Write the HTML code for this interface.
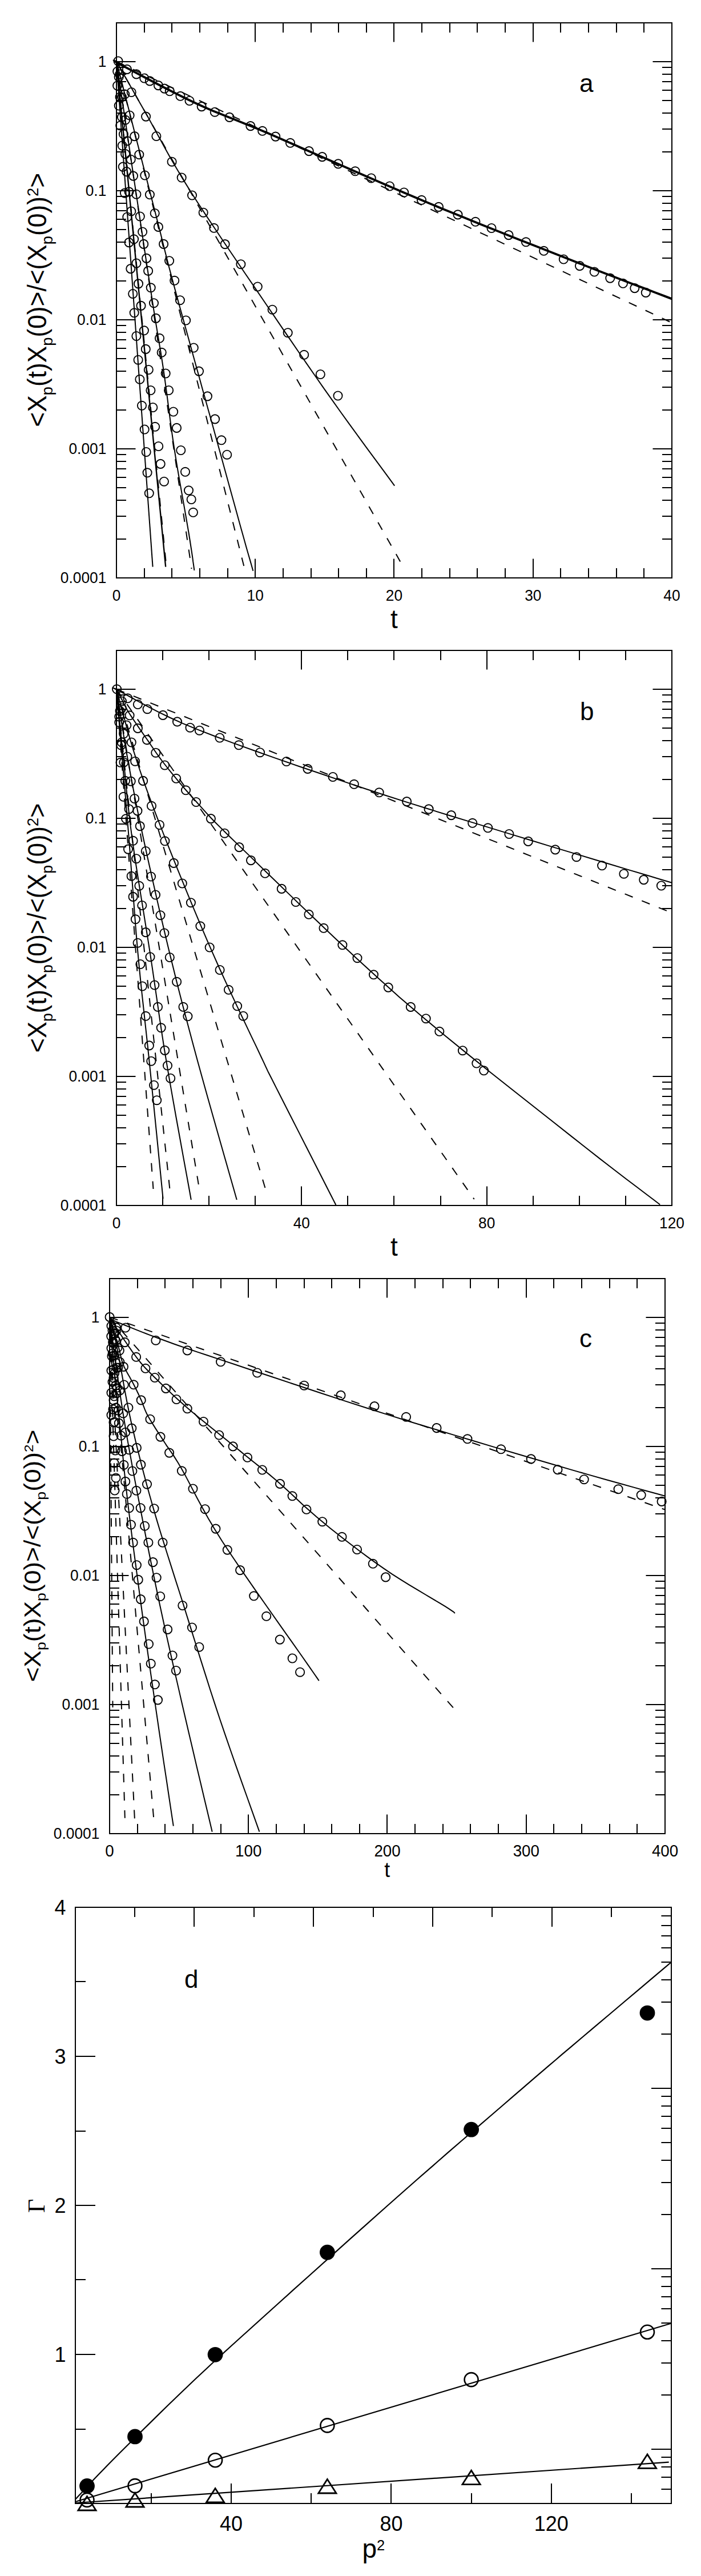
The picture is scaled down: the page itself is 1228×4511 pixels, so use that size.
<!DOCTYPE html>
<html><head><meta charset="utf-8"><title>figure</title><style>
html,body{margin:0;padding:0;background:#fff}
svg{display:block}
text{font-family:"Liberation Sans",Arial,sans-serif;fill:#000;stroke:none}
</style></head><body>
<svg width="1228" height="4511" viewBox="0 0 1228 4511">
<rect width="1228" height="4511" fill="#fff"/>
<g stroke="#000" stroke-linecap="butt">
<rect x="204" y="40" width="973" height="972" fill="none" stroke-width="2"/>
<line x1="204" y1="108" x2="237.5" y2="108" stroke-width="2"/>
<line x1="1177" y1="108" x2="1143.5" y2="108" stroke-width="2"/>
<line x1="204" y1="334" x2="237.5" y2="334" stroke-width="2"/>
<line x1="1177" y1="334" x2="1143.5" y2="334" stroke-width="2"/>
<line x1="204" y1="266" x2="221" y2="266" stroke-width="2"/>
<line x1="1177" y1="266" x2="1160" y2="266" stroke-width="2"/>
<line x1="204" y1="226" x2="221" y2="226" stroke-width="2"/>
<line x1="1177" y1="226" x2="1160" y2="226" stroke-width="2"/>
<line x1="204" y1="198" x2="221" y2="198" stroke-width="2"/>
<line x1="1177" y1="198" x2="1160" y2="198" stroke-width="2"/>
<line x1="204" y1="176" x2="221" y2="176" stroke-width="2"/>
<line x1="1177" y1="176" x2="1160" y2="176" stroke-width="2"/>
<line x1="204" y1="158" x2="221" y2="158" stroke-width="2"/>
<line x1="1177" y1="158" x2="1160" y2="158" stroke-width="2"/>
<line x1="204" y1="143" x2="221" y2="143" stroke-width="2"/>
<line x1="1177" y1="143" x2="1160" y2="143" stroke-width="2"/>
<line x1="204" y1="130" x2="221" y2="130" stroke-width="2"/>
<line x1="1177" y1="130" x2="1160" y2="130" stroke-width="2"/>
<line x1="204" y1="118" x2="221" y2="118" stroke-width="2"/>
<line x1="1177" y1="118" x2="1160" y2="118" stroke-width="2"/>
<line x1="204" y1="560" x2="237.5" y2="560" stroke-width="2"/>
<line x1="1177" y1="560" x2="1143.5" y2="560" stroke-width="2"/>
<line x1="204" y1="492" x2="221" y2="492" stroke-width="2"/>
<line x1="1177" y1="492" x2="1160" y2="492" stroke-width="2"/>
<line x1="204" y1="452" x2="221" y2="452" stroke-width="2"/>
<line x1="1177" y1="452" x2="1160" y2="452" stroke-width="2"/>
<line x1="204" y1="424" x2="221" y2="424" stroke-width="2"/>
<line x1="1177" y1="424" x2="1160" y2="424" stroke-width="2"/>
<line x1="204" y1="402" x2="221" y2="402" stroke-width="2"/>
<line x1="1177" y1="402" x2="1160" y2="402" stroke-width="2"/>
<line x1="204" y1="384" x2="221" y2="384" stroke-width="2"/>
<line x1="1177" y1="384" x2="1160" y2="384" stroke-width="2"/>
<line x1="204" y1="369" x2="221" y2="369" stroke-width="2"/>
<line x1="1177" y1="369" x2="1160" y2="369" stroke-width="2"/>
<line x1="204" y1="356" x2="221" y2="356" stroke-width="2"/>
<line x1="1177" y1="356" x2="1160" y2="356" stroke-width="2"/>
<line x1="204" y1="344" x2="221" y2="344" stroke-width="2"/>
<line x1="1177" y1="344" x2="1160" y2="344" stroke-width="2"/>
<line x1="204" y1="786" x2="237.5" y2="786" stroke-width="2"/>
<line x1="1177" y1="786" x2="1143.5" y2="786" stroke-width="2"/>
<line x1="204" y1="718" x2="221" y2="718" stroke-width="2"/>
<line x1="1177" y1="718" x2="1160" y2="718" stroke-width="2"/>
<line x1="204" y1="678" x2="221" y2="678" stroke-width="2"/>
<line x1="1177" y1="678" x2="1160" y2="678" stroke-width="2"/>
<line x1="204" y1="650" x2="221" y2="650" stroke-width="2"/>
<line x1="1177" y1="650" x2="1160" y2="650" stroke-width="2"/>
<line x1="204" y1="628" x2="221" y2="628" stroke-width="2"/>
<line x1="1177" y1="628" x2="1160" y2="628" stroke-width="2"/>
<line x1="204" y1="610" x2="221" y2="610" stroke-width="2"/>
<line x1="1177" y1="610" x2="1160" y2="610" stroke-width="2"/>
<line x1="204" y1="595" x2="221" y2="595" stroke-width="2"/>
<line x1="1177" y1="595" x2="1160" y2="595" stroke-width="2"/>
<line x1="204" y1="582" x2="221" y2="582" stroke-width="2"/>
<line x1="1177" y1="582" x2="1160" y2="582" stroke-width="2"/>
<line x1="204" y1="570" x2="221" y2="570" stroke-width="2"/>
<line x1="1177" y1="570" x2="1160" y2="570" stroke-width="2"/>
<line x1="204" y1="1012" x2="237.5" y2="1012" stroke-width="2"/>
<line x1="1177" y1="1012" x2="1143.5" y2="1012" stroke-width="2"/>
<line x1="204" y1="944" x2="221" y2="944" stroke-width="2"/>
<line x1="1177" y1="944" x2="1160" y2="944" stroke-width="2"/>
<line x1="204" y1="904" x2="221" y2="904" stroke-width="2"/>
<line x1="1177" y1="904" x2="1160" y2="904" stroke-width="2"/>
<line x1="204" y1="876" x2="221" y2="876" stroke-width="2"/>
<line x1="1177" y1="876" x2="1160" y2="876" stroke-width="2"/>
<line x1="204" y1="854" x2="221" y2="854" stroke-width="2"/>
<line x1="1177" y1="854" x2="1160" y2="854" stroke-width="2"/>
<line x1="204" y1="836" x2="221" y2="836" stroke-width="2"/>
<line x1="1177" y1="836" x2="1160" y2="836" stroke-width="2"/>
<line x1="204" y1="821" x2="221" y2="821" stroke-width="2"/>
<line x1="1177" y1="821" x2="1160" y2="821" stroke-width="2"/>
<line x1="204" y1="808" x2="221" y2="808" stroke-width="2"/>
<line x1="1177" y1="808" x2="1160" y2="808" stroke-width="2"/>
<line x1="204" y1="796" x2="221" y2="796" stroke-width="2"/>
<line x1="1177" y1="796" x2="1160" y2="796" stroke-width="2"/>
<line x1="253" y1="1012" x2="253" y2="995" stroke-width="2"/>
<line x1="253" y1="40" x2="253" y2="57" stroke-width="2"/>
<line x1="301" y1="1012" x2="301" y2="995" stroke-width="2"/>
<line x1="301" y1="40" x2="301" y2="57" stroke-width="2"/>
<line x1="350" y1="1012" x2="350" y2="995" stroke-width="2"/>
<line x1="350" y1="40" x2="350" y2="57" stroke-width="2"/>
<line x1="399" y1="1012" x2="399" y2="995" stroke-width="2"/>
<line x1="399" y1="40" x2="399" y2="57" stroke-width="2"/>
<line x1="447" y1="1012" x2="447" y2="978.5" stroke-width="2"/>
<line x1="447" y1="40" x2="447" y2="73.5" stroke-width="2"/>
<line x1="496" y1="1012" x2="496" y2="995" stroke-width="2"/>
<line x1="496" y1="40" x2="496" y2="57" stroke-width="2"/>
<line x1="545" y1="1012" x2="545" y2="995" stroke-width="2"/>
<line x1="545" y1="40" x2="545" y2="57" stroke-width="2"/>
<line x1="593" y1="1012" x2="593" y2="995" stroke-width="2"/>
<line x1="593" y1="40" x2="593" y2="57" stroke-width="2"/>
<line x1="642" y1="1012" x2="642" y2="995" stroke-width="2"/>
<line x1="642" y1="40" x2="642" y2="57" stroke-width="2"/>
<line x1="690" y1="1012" x2="690" y2="978.5" stroke-width="2"/>
<line x1="690" y1="40" x2="690" y2="73.5" stroke-width="2"/>
<line x1="739" y1="1012" x2="739" y2="995" stroke-width="2"/>
<line x1="739" y1="40" x2="739" y2="57" stroke-width="2"/>
<line x1="788" y1="1012" x2="788" y2="995" stroke-width="2"/>
<line x1="788" y1="40" x2="788" y2="57" stroke-width="2"/>
<line x1="836" y1="1012" x2="836" y2="995" stroke-width="2"/>
<line x1="836" y1="40" x2="836" y2="57" stroke-width="2"/>
<line x1="885" y1="1012" x2="885" y2="995" stroke-width="2"/>
<line x1="885" y1="40" x2="885" y2="57" stroke-width="2"/>
<line x1="934" y1="1012" x2="934" y2="978.5" stroke-width="2"/>
<line x1="934" y1="40" x2="934" y2="73.5" stroke-width="2"/>
<line x1="982" y1="1012" x2="982" y2="995" stroke-width="2"/>
<line x1="982" y1="40" x2="982" y2="57" stroke-width="2"/>
<line x1="1031" y1="1012" x2="1031" y2="995" stroke-width="2"/>
<line x1="1031" y1="40" x2="1031" y2="57" stroke-width="2"/>
<line x1="1080" y1="1012" x2="1080" y2="995" stroke-width="2"/>
<line x1="1080" y1="40" x2="1080" y2="57" stroke-width="2"/>
<line x1="1128" y1="1012" x2="1128" y2="995" stroke-width="2"/>
<line x1="1128" y1="40" x2="1128" y2="57" stroke-width="2"/>
<text transform="translate(186.3,117.2) scale(0.94,1)" font-size="28" text-anchor="end">1</text>
<text transform="translate(186.3,343.2) scale(0.94,1)" font-size="28" text-anchor="end">0.1</text>
<text transform="translate(186.3,569.2) scale(0.94,1)" font-size="28" text-anchor="end">0.01</text>
<text transform="translate(186.3,795.2) scale(0.94,1)" font-size="28" text-anchor="end">0.001</text>
<text transform="translate(186.3,1021.2) scale(0.94,1)" font-size="28" text-anchor="end">0.0001</text>
<text transform="translate(204,1052) scale(0.94,1)" font-size="28" text-anchor="middle">0</text>
<text transform="translate(447.2,1052) scale(0.94,1)" font-size="28" text-anchor="middle">10</text>
<text transform="translate(690.5,1052) scale(0.94,1)" font-size="28" text-anchor="middle">20</text>
<text transform="translate(933.8,1052) scale(0.94,1)" font-size="28" text-anchor="middle">30</text>
<text transform="translate(1177,1052) scale(0.94,1)" font-size="28" text-anchor="middle">40</text>
<text transform="translate(80.5,525.3) rotate(-90)" text-anchor="middle" font-size="46" textLength="444.8" lengthAdjust="spacingAndGlyphs">&lt;X<tspan font-size="28.4" dy="11">p</tspan><tspan dy="-11">(t)X</tspan><tspan font-size="28.4" dy="11">p</tspan><tspan dy="-11">(0)&gt;/&lt;(X</tspan><tspan font-size="28.4" dy="11">p</tspan><tspan dy="-11">(0))</tspan><tspan font-size="28.5" dy="-13.2">2</tspan><tspan dy="13.2">&gt;</tspan></text>
<text x="690.3" y="1099.5" font-size="46" text-anchor="middle">t</text>
<text x="1015" y="161" font-size="44">a</text>
<rect x="204" y="1139" width="973" height="972" fill="none" stroke-width="2"/>
<line x1="204" y1="1207" x2="237.5" y2="1207" stroke-width="2"/>
<line x1="1177" y1="1207" x2="1143.5" y2="1207" stroke-width="2"/>
<line x1="204" y1="1433" x2="237.5" y2="1433" stroke-width="2"/>
<line x1="1177" y1="1433" x2="1143.5" y2="1433" stroke-width="2"/>
<line x1="204" y1="1365" x2="221" y2="1365" stroke-width="2"/>
<line x1="1177" y1="1365" x2="1160" y2="1365" stroke-width="2"/>
<line x1="204" y1="1325" x2="221" y2="1325" stroke-width="2"/>
<line x1="1177" y1="1325" x2="1160" y2="1325" stroke-width="2"/>
<line x1="204" y1="1297" x2="221" y2="1297" stroke-width="2"/>
<line x1="1177" y1="1297" x2="1160" y2="1297" stroke-width="2"/>
<line x1="204" y1="1275" x2="221" y2="1275" stroke-width="2"/>
<line x1="1177" y1="1275" x2="1160" y2="1275" stroke-width="2"/>
<line x1="204" y1="1257" x2="221" y2="1257" stroke-width="2"/>
<line x1="1177" y1="1257" x2="1160" y2="1257" stroke-width="2"/>
<line x1="204" y1="1242" x2="221" y2="1242" stroke-width="2"/>
<line x1="1177" y1="1242" x2="1160" y2="1242" stroke-width="2"/>
<line x1="204" y1="1229" x2="221" y2="1229" stroke-width="2"/>
<line x1="1177" y1="1229" x2="1160" y2="1229" stroke-width="2"/>
<line x1="204" y1="1217" x2="221" y2="1217" stroke-width="2"/>
<line x1="1177" y1="1217" x2="1160" y2="1217" stroke-width="2"/>
<line x1="204" y1="1659" x2="237.5" y2="1659" stroke-width="2"/>
<line x1="1177" y1="1659" x2="1143.5" y2="1659" stroke-width="2"/>
<line x1="204" y1="1591" x2="221" y2="1591" stroke-width="2"/>
<line x1="1177" y1="1591" x2="1160" y2="1591" stroke-width="2"/>
<line x1="204" y1="1551" x2="221" y2="1551" stroke-width="2"/>
<line x1="1177" y1="1551" x2="1160" y2="1551" stroke-width="2"/>
<line x1="204" y1="1523" x2="221" y2="1523" stroke-width="2"/>
<line x1="1177" y1="1523" x2="1160" y2="1523" stroke-width="2"/>
<line x1="204" y1="1501" x2="221" y2="1501" stroke-width="2"/>
<line x1="1177" y1="1501" x2="1160" y2="1501" stroke-width="2"/>
<line x1="204" y1="1483" x2="221" y2="1483" stroke-width="2"/>
<line x1="1177" y1="1483" x2="1160" y2="1483" stroke-width="2"/>
<line x1="204" y1="1468" x2="221" y2="1468" stroke-width="2"/>
<line x1="1177" y1="1468" x2="1160" y2="1468" stroke-width="2"/>
<line x1="204" y1="1455" x2="221" y2="1455" stroke-width="2"/>
<line x1="1177" y1="1455" x2="1160" y2="1455" stroke-width="2"/>
<line x1="204" y1="1443" x2="221" y2="1443" stroke-width="2"/>
<line x1="1177" y1="1443" x2="1160" y2="1443" stroke-width="2"/>
<line x1="204" y1="1885" x2="237.5" y2="1885" stroke-width="2"/>
<line x1="1177" y1="1885" x2="1143.5" y2="1885" stroke-width="2"/>
<line x1="204" y1="1817" x2="221" y2="1817" stroke-width="2"/>
<line x1="1177" y1="1817" x2="1160" y2="1817" stroke-width="2"/>
<line x1="204" y1="1777" x2="221" y2="1777" stroke-width="2"/>
<line x1="1177" y1="1777" x2="1160" y2="1777" stroke-width="2"/>
<line x1="204" y1="1749" x2="221" y2="1749" stroke-width="2"/>
<line x1="1177" y1="1749" x2="1160" y2="1749" stroke-width="2"/>
<line x1="204" y1="1727" x2="221" y2="1727" stroke-width="2"/>
<line x1="1177" y1="1727" x2="1160" y2="1727" stroke-width="2"/>
<line x1="204" y1="1709" x2="221" y2="1709" stroke-width="2"/>
<line x1="1177" y1="1709" x2="1160" y2="1709" stroke-width="2"/>
<line x1="204" y1="1694" x2="221" y2="1694" stroke-width="2"/>
<line x1="1177" y1="1694" x2="1160" y2="1694" stroke-width="2"/>
<line x1="204" y1="1681" x2="221" y2="1681" stroke-width="2"/>
<line x1="1177" y1="1681" x2="1160" y2="1681" stroke-width="2"/>
<line x1="204" y1="1669" x2="221" y2="1669" stroke-width="2"/>
<line x1="1177" y1="1669" x2="1160" y2="1669" stroke-width="2"/>
<line x1="204" y1="2111" x2="237.5" y2="2111" stroke-width="2"/>
<line x1="1177" y1="2111" x2="1143.5" y2="2111" stroke-width="2"/>
<line x1="204" y1="2043" x2="221" y2="2043" stroke-width="2"/>
<line x1="1177" y1="2043" x2="1160" y2="2043" stroke-width="2"/>
<line x1="204" y1="2003" x2="221" y2="2003" stroke-width="2"/>
<line x1="1177" y1="2003" x2="1160" y2="2003" stroke-width="2"/>
<line x1="204" y1="1975" x2="221" y2="1975" stroke-width="2"/>
<line x1="1177" y1="1975" x2="1160" y2="1975" stroke-width="2"/>
<line x1="204" y1="1953" x2="221" y2="1953" stroke-width="2"/>
<line x1="1177" y1="1953" x2="1160" y2="1953" stroke-width="2"/>
<line x1="204" y1="1935" x2="221" y2="1935" stroke-width="2"/>
<line x1="1177" y1="1935" x2="1160" y2="1935" stroke-width="2"/>
<line x1="204" y1="1920" x2="221" y2="1920" stroke-width="2"/>
<line x1="1177" y1="1920" x2="1160" y2="1920" stroke-width="2"/>
<line x1="204" y1="1907" x2="221" y2="1907" stroke-width="2"/>
<line x1="1177" y1="1907" x2="1160" y2="1907" stroke-width="2"/>
<line x1="204" y1="1895" x2="221" y2="1895" stroke-width="2"/>
<line x1="1177" y1="1895" x2="1160" y2="1895" stroke-width="2"/>
<line x1="285" y1="2111" x2="285" y2="2094" stroke-width="2"/>
<line x1="285" y1="1139" x2="285" y2="1156" stroke-width="2"/>
<line x1="366" y1="2111" x2="366" y2="2094" stroke-width="2"/>
<line x1="366" y1="1139" x2="366" y2="1156" stroke-width="2"/>
<line x1="447" y1="2111" x2="447" y2="2094" stroke-width="2"/>
<line x1="447" y1="1139" x2="447" y2="1156" stroke-width="2"/>
<line x1="528" y1="2111" x2="528" y2="2077.5" stroke-width="2"/>
<line x1="528" y1="1139" x2="528" y2="1172.5" stroke-width="2"/>
<line x1="609" y1="2111" x2="609" y2="2094" stroke-width="2"/>
<line x1="609" y1="1139" x2="609" y2="1156" stroke-width="2"/>
<line x1="690" y1="2111" x2="690" y2="2094" stroke-width="2"/>
<line x1="690" y1="1139" x2="690" y2="1156" stroke-width="2"/>
<line x1="772" y1="2111" x2="772" y2="2094" stroke-width="2"/>
<line x1="772" y1="1139" x2="772" y2="1156" stroke-width="2"/>
<line x1="853" y1="2111" x2="853" y2="2077.5" stroke-width="2"/>
<line x1="853" y1="1139" x2="853" y2="1172.5" stroke-width="2"/>
<line x1="934" y1="2111" x2="934" y2="2094" stroke-width="2"/>
<line x1="934" y1="1139" x2="934" y2="1156" stroke-width="2"/>
<line x1="1015" y1="2111" x2="1015" y2="2094" stroke-width="2"/>
<line x1="1015" y1="1139" x2="1015" y2="1156" stroke-width="2"/>
<line x1="1096" y1="2111" x2="1096" y2="2094" stroke-width="2"/>
<line x1="1096" y1="1139" x2="1096" y2="1156" stroke-width="2"/>
<text transform="translate(186.3,1216.2) scale(0.94,1)" font-size="28" text-anchor="end">1</text>
<text transform="translate(186.3,1442.2) scale(0.94,1)" font-size="28" text-anchor="end">0.1</text>
<text transform="translate(186.3,1668.2) scale(0.94,1)" font-size="28" text-anchor="end">0.01</text>
<text transform="translate(186.3,1894.2) scale(0.94,1)" font-size="28" text-anchor="end">0.001</text>
<text transform="translate(186.3,2120.2) scale(0.94,1)" font-size="28" text-anchor="end">0.0001</text>
<text transform="translate(204,2151) scale(0.94,1)" font-size="28" text-anchor="middle">0</text>
<text transform="translate(528.3,2151) scale(0.94,1)" font-size="28" text-anchor="middle">40</text>
<text transform="translate(852.7,2151) scale(0.94,1)" font-size="28" text-anchor="middle">80</text>
<text transform="translate(1177,2151) scale(0.94,1)" font-size="28" text-anchor="middle">120</text>
<text transform="translate(80.5,1625.1) rotate(-90)" text-anchor="middle" font-size="46" textLength="436.8" lengthAdjust="spacingAndGlyphs">&lt;X<tspan font-size="28.4" dy="11">p</tspan><tspan dy="-11">(t)X</tspan><tspan font-size="28.4" dy="11">p</tspan><tspan dy="-11">(0)&gt;/&lt;(X</tspan><tspan font-size="28.4" dy="11">p</tspan><tspan dy="-11">(0))</tspan><tspan font-size="28.5" dy="-13.2">2</tspan><tspan dy="13.2">&gt;</tspan></text>
<text x="690.3" y="2198.5" font-size="46" text-anchor="middle">t</text>
<text x="1016" y="1260.6" font-size="44">b</text>
<rect x="192" y="2239" width="973" height="972" fill="none" stroke-width="2"/>
<line x1="192" y1="2307" x2="225.5" y2="2307" stroke-width="2"/>
<line x1="1165" y1="2307" x2="1131.5" y2="2307" stroke-width="2"/>
<line x1="192" y1="2533" x2="225.5" y2="2533" stroke-width="2"/>
<line x1="1165" y1="2533" x2="1131.5" y2="2533" stroke-width="2"/>
<line x1="192" y1="2465" x2="209" y2="2465" stroke-width="2"/>
<line x1="1165" y1="2465" x2="1148" y2="2465" stroke-width="2"/>
<line x1="192" y1="2425" x2="209" y2="2425" stroke-width="2"/>
<line x1="1165" y1="2425" x2="1148" y2="2425" stroke-width="2"/>
<line x1="192" y1="2397" x2="209" y2="2397" stroke-width="2"/>
<line x1="1165" y1="2397" x2="1148" y2="2397" stroke-width="2"/>
<line x1="192" y1="2375" x2="209" y2="2375" stroke-width="2"/>
<line x1="1165" y1="2375" x2="1148" y2="2375" stroke-width="2"/>
<line x1="192" y1="2357" x2="209" y2="2357" stroke-width="2"/>
<line x1="1165" y1="2357" x2="1148" y2="2357" stroke-width="2"/>
<line x1="192" y1="2342" x2="209" y2="2342" stroke-width="2"/>
<line x1="1165" y1="2342" x2="1148" y2="2342" stroke-width="2"/>
<line x1="192" y1="2329" x2="209" y2="2329" stroke-width="2"/>
<line x1="1165" y1="2329" x2="1148" y2="2329" stroke-width="2"/>
<line x1="192" y1="2317" x2="209" y2="2317" stroke-width="2"/>
<line x1="1165" y1="2317" x2="1148" y2="2317" stroke-width="2"/>
<line x1="192" y1="2759" x2="225.5" y2="2759" stroke-width="2"/>
<line x1="1165" y1="2759" x2="1131.5" y2="2759" stroke-width="2"/>
<line x1="192" y1="2691" x2="209" y2="2691" stroke-width="2"/>
<line x1="1165" y1="2691" x2="1148" y2="2691" stroke-width="2"/>
<line x1="192" y1="2651" x2="209" y2="2651" stroke-width="2"/>
<line x1="1165" y1="2651" x2="1148" y2="2651" stroke-width="2"/>
<line x1="192" y1="2623" x2="209" y2="2623" stroke-width="2"/>
<line x1="1165" y1="2623" x2="1148" y2="2623" stroke-width="2"/>
<line x1="192" y1="2601" x2="209" y2="2601" stroke-width="2"/>
<line x1="1165" y1="2601" x2="1148" y2="2601" stroke-width="2"/>
<line x1="192" y1="2583" x2="209" y2="2583" stroke-width="2"/>
<line x1="1165" y1="2583" x2="1148" y2="2583" stroke-width="2"/>
<line x1="192" y1="2568" x2="209" y2="2568" stroke-width="2"/>
<line x1="1165" y1="2568" x2="1148" y2="2568" stroke-width="2"/>
<line x1="192" y1="2555" x2="209" y2="2555" stroke-width="2"/>
<line x1="1165" y1="2555" x2="1148" y2="2555" stroke-width="2"/>
<line x1="192" y1="2543" x2="209" y2="2543" stroke-width="2"/>
<line x1="1165" y1="2543" x2="1148" y2="2543" stroke-width="2"/>
<line x1="192" y1="2985" x2="225.5" y2="2985" stroke-width="2"/>
<line x1="1165" y1="2985" x2="1131.5" y2="2985" stroke-width="2"/>
<line x1="192" y1="2917" x2="209" y2="2917" stroke-width="2"/>
<line x1="1165" y1="2917" x2="1148" y2="2917" stroke-width="2"/>
<line x1="192" y1="2877" x2="209" y2="2877" stroke-width="2"/>
<line x1="1165" y1="2877" x2="1148" y2="2877" stroke-width="2"/>
<line x1="192" y1="2849" x2="209" y2="2849" stroke-width="2"/>
<line x1="1165" y1="2849" x2="1148" y2="2849" stroke-width="2"/>
<line x1="192" y1="2827" x2="209" y2="2827" stroke-width="2"/>
<line x1="1165" y1="2827" x2="1148" y2="2827" stroke-width="2"/>
<line x1="192" y1="2809" x2="209" y2="2809" stroke-width="2"/>
<line x1="1165" y1="2809" x2="1148" y2="2809" stroke-width="2"/>
<line x1="192" y1="2794" x2="209" y2="2794" stroke-width="2"/>
<line x1="1165" y1="2794" x2="1148" y2="2794" stroke-width="2"/>
<line x1="192" y1="2781" x2="209" y2="2781" stroke-width="2"/>
<line x1="1165" y1="2781" x2="1148" y2="2781" stroke-width="2"/>
<line x1="192" y1="2769" x2="209" y2="2769" stroke-width="2"/>
<line x1="1165" y1="2769" x2="1148" y2="2769" stroke-width="2"/>
<line x1="192" y1="3211" x2="225.5" y2="3211" stroke-width="2"/>
<line x1="1165" y1="3211" x2="1131.5" y2="3211" stroke-width="2"/>
<line x1="192" y1="3143" x2="209" y2="3143" stroke-width="2"/>
<line x1="1165" y1="3143" x2="1148" y2="3143" stroke-width="2"/>
<line x1="192" y1="3103" x2="209" y2="3103" stroke-width="2"/>
<line x1="1165" y1="3103" x2="1148" y2="3103" stroke-width="2"/>
<line x1="192" y1="3075" x2="209" y2="3075" stroke-width="2"/>
<line x1="1165" y1="3075" x2="1148" y2="3075" stroke-width="2"/>
<line x1="192" y1="3053" x2="209" y2="3053" stroke-width="2"/>
<line x1="1165" y1="3053" x2="1148" y2="3053" stroke-width="2"/>
<line x1="192" y1="3035" x2="209" y2="3035" stroke-width="2"/>
<line x1="1165" y1="3035" x2="1148" y2="3035" stroke-width="2"/>
<line x1="192" y1="3020" x2="209" y2="3020" stroke-width="2"/>
<line x1="1165" y1="3020" x2="1148" y2="3020" stroke-width="2"/>
<line x1="192" y1="3007" x2="209" y2="3007" stroke-width="2"/>
<line x1="1165" y1="3007" x2="1148" y2="3007" stroke-width="2"/>
<line x1="192" y1="2995" x2="209" y2="2995" stroke-width="2"/>
<line x1="1165" y1="2995" x2="1148" y2="2995" stroke-width="2"/>
<line x1="241" y1="3211" x2="241" y2="3194" stroke-width="2"/>
<line x1="241" y1="2239" x2="241" y2="2256" stroke-width="2"/>
<line x1="289" y1="3211" x2="289" y2="3194" stroke-width="2"/>
<line x1="289" y1="2239" x2="289" y2="2256" stroke-width="2"/>
<line x1="338" y1="3211" x2="338" y2="3194" stroke-width="2"/>
<line x1="338" y1="2239" x2="338" y2="2256" stroke-width="2"/>
<line x1="387" y1="3211" x2="387" y2="3194" stroke-width="2"/>
<line x1="387" y1="2239" x2="387" y2="2256" stroke-width="2"/>
<line x1="435" y1="3211" x2="435" y2="3177.5" stroke-width="2"/>
<line x1="435" y1="2239" x2="435" y2="2272.5" stroke-width="2"/>
<line x1="484" y1="3211" x2="484" y2="3194" stroke-width="2"/>
<line x1="484" y1="2239" x2="484" y2="2256" stroke-width="2"/>
<line x1="533" y1="3211" x2="533" y2="3194" stroke-width="2"/>
<line x1="533" y1="2239" x2="533" y2="2256" stroke-width="2"/>
<line x1="581" y1="3211" x2="581" y2="3194" stroke-width="2"/>
<line x1="581" y1="2239" x2="581" y2="2256" stroke-width="2"/>
<line x1="630" y1="3211" x2="630" y2="3194" stroke-width="2"/>
<line x1="630" y1="2239" x2="630" y2="2256" stroke-width="2"/>
<line x1="678" y1="3211" x2="678" y2="3177.5" stroke-width="2"/>
<line x1="678" y1="2239" x2="678" y2="2272.5" stroke-width="2"/>
<line x1="727" y1="3211" x2="727" y2="3194" stroke-width="2"/>
<line x1="727" y1="2239" x2="727" y2="2256" stroke-width="2"/>
<line x1="776" y1="3211" x2="776" y2="3194" stroke-width="2"/>
<line x1="776" y1="2239" x2="776" y2="2256" stroke-width="2"/>
<line x1="824" y1="3211" x2="824" y2="3194" stroke-width="2"/>
<line x1="824" y1="2239" x2="824" y2="2256" stroke-width="2"/>
<line x1="873" y1="3211" x2="873" y2="3194" stroke-width="2"/>
<line x1="873" y1="2239" x2="873" y2="2256" stroke-width="2"/>
<line x1="922" y1="3211" x2="922" y2="3177.5" stroke-width="2"/>
<line x1="922" y1="2239" x2="922" y2="2272.5" stroke-width="2"/>
<line x1="970" y1="3211" x2="970" y2="3194" stroke-width="2"/>
<line x1="970" y1="2239" x2="970" y2="2256" stroke-width="2"/>
<line x1="1019" y1="3211" x2="1019" y2="3194" stroke-width="2"/>
<line x1="1019" y1="2239" x2="1019" y2="2256" stroke-width="2"/>
<line x1="1068" y1="3211" x2="1068" y2="3194" stroke-width="2"/>
<line x1="1068" y1="2239" x2="1068" y2="2256" stroke-width="2"/>
<line x1="1116" y1="3211" x2="1116" y2="3194" stroke-width="2"/>
<line x1="1116" y1="2239" x2="1116" y2="2256" stroke-width="2"/>
<text transform="translate(174.3,2316.2) scale(0.94,1)" font-size="28" text-anchor="end">1</text>
<text transform="translate(174.3,2542.2) scale(0.94,1)" font-size="28" text-anchor="end">0.1</text>
<text transform="translate(174.3,2768.2) scale(0.94,1)" font-size="28" text-anchor="end">0.01</text>
<text transform="translate(174.3,2994.2) scale(0.94,1)" font-size="28" text-anchor="end">0.001</text>
<text transform="translate(174.3,3220.2) scale(0.94,1)" font-size="28" text-anchor="end">0.0001</text>
<text transform="translate(192,3251) scale(0.94,1)" font-size="29.5" text-anchor="middle">0</text>
<text transform="translate(435.2,3251) scale(0.94,1)" font-size="29.5" text-anchor="middle">100</text>
<text transform="translate(678.5,3251) scale(0.94,1)" font-size="29.5" text-anchor="middle">200</text>
<text transform="translate(921.8,3251) scale(0.94,1)" font-size="29.5" text-anchor="middle">300</text>
<text transform="translate(1165,3251) scale(0.94,1)" font-size="29.5" text-anchor="middle">400</text>
<text transform="translate(70.5,2724.5) rotate(-90)" text-anchor="middle" font-size="40" textLength="442" lengthAdjust="spacingAndGlyphs">&lt;X<tspan font-size="24" dy="9">p</tspan><tspan dy="-9">(t)X</tspan><tspan font-size="24" dy="9">p</tspan><tspan dy="-9">(0)&gt;/&lt;(X</tspan><tspan font-size="24" dy="9">p</tspan><tspan dy="-9">(0))</tspan><tspan font-size="22" dy="-13">2</tspan><tspan dy="13">&gt;</tspan></text>
<text x="678.2" y="3287" font-size="36" text-anchor="middle">t</text>
<text x="1015" y="2359.4" font-size="44">c</text>
<rect x="132" y="3340" width="1044" height="1044" fill="none" stroke-width="2"/>
<line x1="132" y1="4254" x2="150" y2="4254" stroke-width="2"/>
<line x1="132" y1="4123" x2="167" y2="4123" stroke-width="2"/>
<line x1="132" y1="3992" x2="150" y2="3992" stroke-width="2"/>
<line x1="132" y1="3862" x2="167" y2="3862" stroke-width="2"/>
<line x1="132" y1="3732" x2="150" y2="3732" stroke-width="2"/>
<line x1="132" y1="3601" x2="167" y2="3601" stroke-width="2"/>
<line x1="132" y1="3470" x2="150" y2="3470" stroke-width="2"/>
<line x1="265" y1="4384" x2="265" y2="4366" stroke-width="2"/>
<line x1="405" y1="4384" x2="405" y2="4349" stroke-width="2"/>
<line x1="545" y1="4384" x2="545" y2="4366" stroke-width="2"/>
<line x1="685" y1="4384" x2="685" y2="4349" stroke-width="2"/>
<line x1="826" y1="4384" x2="826" y2="4366" stroke-width="2"/>
<line x1="966" y1="4384" x2="966" y2="4349" stroke-width="2"/>
<line x1="1106" y1="4384" x2="1106" y2="4366" stroke-width="2"/>
<line x1="236" y1="3340" x2="236" y2="3357" stroke-width="2"/>
<line x1="340" y1="3340" x2="340" y2="3374" stroke-width="2"/>
<line x1="445" y1="3340" x2="445" y2="3357" stroke-width="2"/>
<line x1="549" y1="3340" x2="549" y2="3374" stroke-width="2"/>
<line x1="654" y1="3340" x2="654" y2="3357" stroke-width="2"/>
<line x1="758" y1="3340" x2="758" y2="3374" stroke-width="2"/>
<line x1="862" y1="3340" x2="862" y2="3357" stroke-width="2"/>
<line x1="967" y1="3340" x2="967" y2="3374" stroke-width="2"/>
<line x1="1071" y1="3340" x2="1071" y2="3357" stroke-width="2"/>
<line x1="1176" y1="4289" x2="1141" y2="4289" stroke-width="2"/>
<line x1="1176" y1="4359" x2="1158.4" y2="4359" stroke-width="2"/>
<line x1="1176" y1="4338" x2="1158.4" y2="4338" stroke-width="2"/>
<line x1="1176" y1="4320" x2="1158.4" y2="4320" stroke-width="2"/>
<line x1="1176" y1="4303" x2="1158.4" y2="4303" stroke-width="2"/>
<line x1="1176" y1="3973" x2="1141" y2="3973" stroke-width="2"/>
<line x1="1176" y1="4194" x2="1158.4" y2="4194" stroke-width="2"/>
<line x1="1176" y1="4138" x2="1158.4" y2="4138" stroke-width="2"/>
<line x1="1176" y1="4099" x2="1158.4" y2="4099" stroke-width="2"/>
<line x1="1176" y1="4068" x2="1158.4" y2="4068" stroke-width="2"/>
<line x1="1176" y1="4043" x2="1158.4" y2="4043" stroke-width="2"/>
<line x1="1176" y1="4022" x2="1158.4" y2="4022" stroke-width="2"/>
<line x1="1176" y1="4004" x2="1158.4" y2="4004" stroke-width="2"/>
<line x1="1176" y1="3987" x2="1158.4" y2="3987" stroke-width="2"/>
<line x1="1176" y1="3657" x2="1141" y2="3657" stroke-width="2"/>
<line x1="1176" y1="3878" x2="1158.4" y2="3878" stroke-width="2"/>
<line x1="1176" y1="3822" x2="1158.4" y2="3822" stroke-width="2"/>
<line x1="1176" y1="3783" x2="1158.4" y2="3783" stroke-width="2"/>
<line x1="1176" y1="3752" x2="1158.4" y2="3752" stroke-width="2"/>
<line x1="1176" y1="3727" x2="1158.4" y2="3727" stroke-width="2"/>
<line x1="1176" y1="3706" x2="1158.4" y2="3706" stroke-width="2"/>
<line x1="1176" y1="3688" x2="1158.4" y2="3688" stroke-width="2"/>
<line x1="1176" y1="3671" x2="1158.4" y2="3671" stroke-width="2"/>
<line x1="1176" y1="3562" x2="1158.4" y2="3562" stroke-width="2"/>
<line x1="1176" y1="3506" x2="1158.4" y2="3506" stroke-width="2"/>
<line x1="1176" y1="3467" x2="1158.4" y2="3467" stroke-width="2"/>
<line x1="1176" y1="3436" x2="1158.4" y2="3436" stroke-width="2"/>
<line x1="1176" y1="3411" x2="1158.4" y2="3411" stroke-width="2"/>
<line x1="1176" y1="3390" x2="1158.4" y2="3390" stroke-width="2"/>
<line x1="1176" y1="3372" x2="1158.4" y2="3372" stroke-width="2"/>
<line x1="1176" y1="3355" x2="1158.4" y2="3355" stroke-width="2"/>
<text x="115.5" y="4135.5" font-size="36" text-anchor="end">1</text>
<text x="115.5" y="3874.5" font-size="36" text-anchor="end">2</text>
<text x="115.5" y="3613.5" font-size="36" text-anchor="end">3</text>
<text x="115.5" y="3352.5" font-size="36" text-anchor="end">4</text>
<text x="405.1" y="4432" font-size="36" text-anchor="middle">40</text>
<text x="685.4" y="4432" font-size="36" text-anchor="middle">80</text>
<text x="965.8" y="4432" font-size="36" text-anchor="middle">120</text>
<text x="634.5" y="4478.8" font-size="46">p<tspan font-size="25.5" dy="-12.8">2</tspan></text>
<text transform="translate(78,3875) rotate(-90)" font-size="42" style="font-family:'Liberation Serif',serif">Γ</text>
<text x="323" y="3481" font-size="44">d</text>
<polyline points="204,107.7 204.1,107.9 203.3,107.7 202.2,107.4 201.5,107.3 201.9,107.8 203.9,109.1 208.1,111.5 215.3,115.3 225.9,120.9 239.5,128.1 255.5,136.5 273,145.7 291.5,155.3 310.1,164.7 328.2,173.7 345,181.7 359.9,188.4 373.2,194.2 385.8,199.3 398.7,204.5 412.7,210 428.7,216.4 447.5,224.1 470,233.6 496.9,245.2 527.5,258.7 561.1,273.4 596.6,289 633.1,305.1 669.8,321 705.7,336.5 740,351 773.5,364.9 807.6,378.8 841.9,392.7 875.8,406.2 909,419.4 941.1,432.1 971.5,444.1 1000,455.3 1027.3,466 1054.2,476.5 1080.2,486.5 1104.8,495.9 1127.2,504.4 1147.1,512 1163.9,518.4 1177,523.4" fill="none" stroke-width="3.8"/>
<polyline points="204,107.7 207.6,114 212.1,122 217.5,131.5 223.6,142.3 230.3,154.1 237.5,166.8 245.1,180.2 253,194 261,208.3 269.3,223.3 277.9,239.1 287,255.7 296.7,273.2 307.3,291.6 318.8,311 331.4,331.4 345.5,353.5 361.1,377.4 377.9,402.5 395.3,428.5 413.1,454.7 430.7,480.7 447.9,505.9 464.1,529.7 479.5,552.4 494.6,574.6 509.5,596.4 524.1,617.7 538.5,638.6 552.8,659.2 567,679.6 581.2,699.7 596,720.5 611.8,742.3 627.8,764.3 643.5,785.8 658.3,805.9 671.6,823.9 682.8,839.1 691.2,850.6" fill="none" stroke-width="2"/>
<polyline points="204,107.7 209.5,129 217,158.4 226.1,193.5 235.9,232 246,271.3 255.7,309 264.4,342.7 271.4,370 276.7,390.8 280.9,407.3 284.2,420.6 287,432 289.7,442.5 292.4,453.3 295.5,465.4 299.4,480 303.9,496.9 308.8,514.9 313.9,533.8 319.3,553.1 324.7,572.7 330.1,592.3 335.4,611.5 340.5,630 345.4,647.8 350.3,665.2 355,682.4 359.8,699.4 364.5,716.5 369.4,733.8 374.3,751.6 379.4,770 384.8,789.6 390.6,810.7 396.6,832.4 402.6,854.3 408.5,875.6 414.1,895.7 419.1,914 423.5,929.8 427.3,943.3 430.6,955.3 433.6,965.7 436.2,974.8 438.5,982.6 440.4,989.3 442,995 443.4,999.8" fill="none" stroke-width="2"/>
<polyline points="204,107.7 208.8,140.1 215.6,185.1 223.6,238.9 232.3,297.6 241.3,357.4 249.8,414.5 257.4,464.9 263.5,505 268.1,534.8 271.8,558.1 274.8,576.3 277.3,591.1 279.4,603.8 281.5,616 283.6,629.3 286,645 288.5,662.4 290.9,679.8 293.2,697.1 295.4,714.4 297.7,731.8 300,749.3 302.5,767 305.2,785 308.2,803.9 311.5,823.8 315.1,844.3 318.7,864.8 322.2,884.6 325.5,903.3 328.4,920.3 330.9,935 332.9,947.5 334.6,958.5 336.1,968.1 337.3,976.3 338.2,983.4 339.1,989.4 339.8,994.6 340.4,998.9" fill="none" stroke-width="2"/>
<polyline points="204,107.7 290.2,992.6" fill="none" stroke-width="2.4"/>
<polyline points="204,107.7 267.6,992.6" fill="none" stroke-width="2"/>
<polyline points="204,107.7 1177,565.3" fill="none" stroke-width="2" stroke-dasharray="15 17"/>
<polyline points="204,107.7 707.3,994.2" fill="none" stroke-width="2" stroke-dasharray="15 17"/>
<polyline points="204,107.7 429.5,1000" fill="none" stroke-width="2" stroke-dasharray="15 17"/>
<polyline points="204,107.7 335.6,996" fill="none" stroke-width="2" stroke-dasharray="15 17"/>
<polyline points="204,107.7 291.5,992.6" fill="none" stroke-width="2" stroke-dasharray="15 17"/>
<circle cx="207" cy="107" r="7.6" fill="none" stroke-width="1.9"/>
<circle cx="222.4" cy="121.4" r="7.6" fill="none" stroke-width="1.9"/>
<circle cx="238.9" cy="129.9" r="7.6" fill="none" stroke-width="1.9"/>
<circle cx="252.8" cy="137" r="7.6" fill="none" stroke-width="1.9"/>
<circle cx="262.4" cy="141.9" r="7.6" fill="none" stroke-width="1.9"/>
<circle cx="277.4" cy="149.6" r="7.6" fill="none" stroke-width="1.9"/>
<circle cx="288.1" cy="155.1" r="7.6" fill="none" stroke-width="1.9"/>
<circle cx="297.3" cy="159.8" r="7.6" fill="none" stroke-width="1.9"/>
<circle cx="315.9" cy="168.3" r="7.6" fill="none" stroke-width="1.9"/>
<circle cx="332" cy="176.5" r="7.6" fill="none" stroke-width="1.9"/>
<circle cx="353.2" cy="186.6" r="7.6" fill="none" stroke-width="1.9"/>
<circle cx="376.3" cy="196.2" r="7.6" fill="none" stroke-width="1.9"/>
<circle cx="402" cy="205.4" r="7.6" fill="none" stroke-width="1.9"/>
<circle cx="438.8" cy="220.6" r="7.6" fill="none" stroke-width="1.9"/>
<circle cx="459.7" cy="229.3" r="7.6" fill="none" stroke-width="1.9"/>
<circle cx="482.7" cy="239.1" r="7.6" fill="none" stroke-width="1.9"/>
<circle cx="508.5" cy="250.3" r="7.6" fill="none" stroke-width="1.9"/>
<circle cx="541.3" cy="264.6" r="7.6" fill="none" stroke-width="1.9"/>
<circle cx="564.4" cy="274.6" r="7.6" fill="none" stroke-width="1.9"/>
<circle cx="592.5" cy="286.9" r="7.6" fill="none" stroke-width="1.9"/>
<circle cx="622.2" cy="299.8" r="7.6" fill="none" stroke-width="1.9"/>
<circle cx="650.3" cy="312" r="7.6" fill="none" stroke-width="1.9"/>
<circle cx="682.6" cy="326" r="7.6" fill="none" stroke-width="1.9"/>
<circle cx="707.7" cy="337" r="7.6" fill="none" stroke-width="1.9"/>
<circle cx="738.5" cy="350.3" r="7.6" fill="none" stroke-width="1.9"/>
<circle cx="768.5" cy="362.4" r="7.6" fill="none" stroke-width="1.9"/>
<circle cx="802" cy="375.9" r="7.6" fill="none" stroke-width="1.9"/>
<circle cx="832.9" cy="388.3" r="7.6" fill="none" stroke-width="1.9"/>
<circle cx="861" cy="399.5" r="7.6" fill="none" stroke-width="1.9"/>
<circle cx="891" cy="411.6" r="7.6" fill="none" stroke-width="1.9"/>
<circle cx="921.4" cy="423.8" r="7.6" fill="none" stroke-width="1.9"/>
<circle cx="952.6" cy="439.3" r="7.6" fill="none" stroke-width="1.9"/>
<circle cx="987.3" cy="454" r="7.6" fill="none" stroke-width="1.9"/>
<circle cx="1015.5" cy="465.6" r="7.6" fill="none" stroke-width="1.9"/>
<circle cx="1041.2" cy="476" r="7.6" fill="none" stroke-width="1.9"/>
<circle cx="1068.8" cy="487.1" r="7.6" fill="none" stroke-width="1.9"/>
<circle cx="1091.4" cy="496.3" r="7.6" fill="none" stroke-width="1.9"/>
<circle cx="1111.8" cy="504.6" r="7.6" fill="none" stroke-width="1.9"/>
<circle cx="1131.3" cy="512.4" r="7.6" fill="none" stroke-width="1.9"/>
<circle cx="230.2" cy="161.5" r="7.6" fill="none" stroke-width="1.9"/>
<circle cx="255.6" cy="204.1" r="7.6" fill="none" stroke-width="1.9"/>
<circle cx="273.9" cy="238.5" r="7.6" fill="none" stroke-width="1.9"/>
<circle cx="301.1" cy="283.2" r="7.6" fill="none" stroke-width="1.9"/>
<circle cx="318.2" cy="311" r="7.6" fill="none" stroke-width="1.9"/>
<circle cx="336.5" cy="342" r="7.6" fill="none" stroke-width="1.9"/>
<circle cx="356.2" cy="372.2" r="7.6" fill="none" stroke-width="1.9"/>
<circle cx="374.8" cy="399.3" r="7.6" fill="none" stroke-width="1.9"/>
<circle cx="394.2" cy="427.6" r="7.6" fill="none" stroke-width="1.9"/>
<circle cx="421.9" cy="462.7" r="7.6" fill="none" stroke-width="1.9"/>
<circle cx="451.3" cy="502" r="7.6" fill="none" stroke-width="1.9"/>
<circle cx="477.1" cy="542.2" r="7.6" fill="none" stroke-width="1.9"/>
<circle cx="504.2" cy="582.7" r="7.6" fill="none" stroke-width="1.9"/>
<circle cx="532.7" cy="621.3" r="7.6" fill="none" stroke-width="1.9"/>
<circle cx="561.3" cy="655.5" r="7.6" fill="none" stroke-width="1.9"/>
<circle cx="592" cy="693" r="7.6" fill="none" stroke-width="1.9"/>
<circle cx="209.7" cy="130" r="7.6" fill="none" stroke-width="1.9"/>
<circle cx="218.7" cy="165" r="7.6" fill="none" stroke-width="1.9"/>
<circle cx="227.1" cy="202" r="7.6" fill="none" stroke-width="1.9"/>
<circle cx="235.7" cy="238.6" r="7.6" fill="none" stroke-width="1.9"/>
<circle cx="243.8" cy="270.7" r="7.6" fill="none" stroke-width="1.9"/>
<circle cx="253.8" cy="307" r="7.6" fill="none" stroke-width="1.9"/>
<circle cx="262.4" cy="340.8" r="7.6" fill="none" stroke-width="1.9"/>
<circle cx="271.2" cy="373.5" r="7.6" fill="none" stroke-width="1.9"/>
<circle cx="277.4" cy="397.4" r="7.6" fill="none" stroke-width="1.9"/>
<circle cx="286.6" cy="427.4" r="7.6" fill="none" stroke-width="1.9"/>
<circle cx="296.6" cy="456.7" r="7.6" fill="none" stroke-width="1.9"/>
<circle cx="305.7" cy="491.3" r="7.6" fill="none" stroke-width="1.9"/>
<circle cx="315.4" cy="525.7" r="7.6" fill="none" stroke-width="1.9"/>
<circle cx="325.7" cy="561" r="7.6" fill="none" stroke-width="1.9"/>
<circle cx="339.3" cy="609" r="7.6" fill="none" stroke-width="1.9"/>
<circle cx="348.5" cy="650.1" r="7.6" fill="none" stroke-width="1.9"/>
<circle cx="363.4" cy="693.9" r="7.6" fill="none" stroke-width="1.9"/>
<circle cx="376.6" cy="733.9" r="7.6" fill="none" stroke-width="1.9"/>
<circle cx="387.9" cy="770.8" r="7.6" fill="none" stroke-width="1.9"/>
<circle cx="397.7" cy="796.2" r="7.6" fill="none" stroke-width="1.9"/>
<circle cx="208.2" cy="135" r="7.6" fill="none" stroke-width="1.9"/>
<circle cx="213.5" cy="170" r="7.6" fill="none" stroke-width="1.9"/>
<circle cx="219.7" cy="210" r="7.6" fill="none" stroke-width="1.9"/>
<circle cx="222.8" cy="246.7" r="7.6" fill="none" stroke-width="1.9"/>
<circle cx="229.2" cy="279.2" r="7.6" fill="none" stroke-width="1.9"/>
<circle cx="233.5" cy="308.1" r="7.6" fill="none" stroke-width="1.9"/>
<circle cx="238.9" cy="340.2" r="7.6" fill="none" stroke-width="1.9"/>
<circle cx="245.3" cy="379" r="7.6" fill="none" stroke-width="1.9"/>
<circle cx="249.6" cy="406" r="7.6" fill="none" stroke-width="1.9"/>
<circle cx="251.7" cy="427.4" r="7.6" fill="none" stroke-width="1.9"/>
<circle cx="256.6" cy="452.4" r="7.6" fill="none" stroke-width="1.9"/>
<circle cx="259.6" cy="474.4" r="7.6" fill="none" stroke-width="1.9"/>
<circle cx="264.2" cy="503.8" r="7.6" fill="none" stroke-width="1.9"/>
<circle cx="269.5" cy="530.7" r="7.6" fill="none" stroke-width="1.9"/>
<circle cx="273.1" cy="557.4" r="7.6" fill="none" stroke-width="1.9"/>
<circle cx="279.5" cy="592.3" r="7.6" fill="none" stroke-width="1.9"/>
<circle cx="283.2" cy="617.3" r="7.6" fill="none" stroke-width="1.9"/>
<circle cx="290.2" cy="654" r="7.6" fill="none" stroke-width="1.9"/>
<circle cx="295.6" cy="683.5" r="7.6" fill="none" stroke-width="1.9"/>
<circle cx="303.7" cy="721" r="7.6" fill="none" stroke-width="1.9"/>
<circle cx="309.5" cy="749.4" r="7.6" fill="none" stroke-width="1.9"/>
<circle cx="316.8" cy="788.5" r="7.6" fill="none" stroke-width="1.9"/>
<circle cx="324.5" cy="826.3" r="7.6" fill="none" stroke-width="1.9"/>
<circle cx="330.5" cy="858.8" r="7.6" fill="none" stroke-width="1.9"/>
<circle cx="335.2" cy="874.5" r="7.6" fill="none" stroke-width="1.9"/>
<circle cx="338.4" cy="897.3" r="7.6" fill="none" stroke-width="1.9"/>
<circle cx="205.7" cy="125" r="7.6" fill="none" stroke-width="1.9"/>
<circle cx="210.1" cy="170" r="7.6" fill="none" stroke-width="1.9"/>
<circle cx="213.5" cy="205" r="7.6" fill="none" stroke-width="1.9"/>
<circle cx="216.4" cy="235" r="7.6" fill="none" stroke-width="1.9"/>
<circle cx="219.6" cy="269.6" r="7.6" fill="none" stroke-width="1.9"/>
<circle cx="221.7" cy="300.6" r="7.6" fill="none" stroke-width="1.9"/>
<circle cx="226" cy="335.9" r="7.6" fill="none" stroke-width="1.9"/>
<circle cx="229.8" cy="370" r="7.6" fill="none" stroke-width="1.9"/>
<circle cx="234.6" cy="418.8" r="7.6" fill="none" stroke-width="1.9"/>
<circle cx="238.9" cy="461" r="7.6" fill="none" stroke-width="1.9"/>
<circle cx="242.5" cy="496.9" r="7.6" fill="none" stroke-width="1.9"/>
<circle cx="247" cy="535.4" r="7.6" fill="none" stroke-width="1.9"/>
<circle cx="252.4" cy="578.8" r="7.6" fill="none" stroke-width="1.9"/>
<circle cx="255.3" cy="611.4" r="7.6" fill="none" stroke-width="1.9"/>
<circle cx="260.3" cy="647.5" r="7.6" fill="none" stroke-width="1.9"/>
<circle cx="263.9" cy="683.5" r="7.6" fill="none" stroke-width="1.9"/>
<circle cx="267.8" cy="713.5" r="7.6" fill="none" stroke-width="1.9"/>
<circle cx="271.6" cy="747.3" r="7.6" fill="none" stroke-width="1.9"/>
<circle cx="277.7" cy="781.5" r="7.6" fill="none" stroke-width="1.9"/>
<circle cx="281.2" cy="812.4" r="7.6" fill="none" stroke-width="1.9"/>
<circle cx="287.4" cy="843.2" r="7.6" fill="none" stroke-width="1.9"/>
<circle cx="205.6" cy="150" r="7.6" fill="none" stroke-width="1.9"/>
<circle cx="208.2" cy="185" r="7.6" fill="none" stroke-width="1.9"/>
<circle cx="210.7" cy="220" r="7.6" fill="none" stroke-width="1.9"/>
<circle cx="214.2" cy="255" r="7.6" fill="none" stroke-width="1.9"/>
<circle cx="215.3" cy="292.1" r="7.6" fill="none" stroke-width="1.9"/>
<circle cx="218.5" cy="338.1" r="7.6" fill="none" stroke-width="1.9"/>
<circle cx="222.8" cy="380" r="7.6" fill="none" stroke-width="1.9"/>
<circle cx="226" cy="424.6" r="7.6" fill="none" stroke-width="1.9"/>
<circle cx="228.8" cy="470.6" r="7.6" fill="none" stroke-width="1.9"/>
<circle cx="232.7" cy="514.5" r="7.6" fill="none" stroke-width="1.9"/>
<circle cx="235.2" cy="547.8" r="7.6" fill="none" stroke-width="1.9"/>
<circle cx="238.9" cy="588.5" r="7.6" fill="none" stroke-width="1.9"/>
<circle cx="242.1" cy="630.2" r="7.6" fill="none" stroke-width="1.9"/>
<circle cx="244.9" cy="664.3" r="7.6" fill="none" stroke-width="1.9"/>
<circle cx="248.5" cy="710.3" r="7.6" fill="none" stroke-width="1.9"/>
<circle cx="253.2" cy="752" r="7.6" fill="none" stroke-width="1.9"/>
<circle cx="256.2" cy="791.5" r="7.6" fill="none" stroke-width="1.9"/>
<circle cx="258.1" cy="827.8" r="7.6" fill="none" stroke-width="1.9"/>
<circle cx="261.3" cy="863.8" r="7.6" fill="none" stroke-width="1.9"/>
<polyline points="204,1207 203.5,1206.8 201.8,1206 199.6,1205.1 197.8,1204.3 197.1,1204 198.2,1204.7 201.8,1206.5 208.8,1210 218.5,1215.1 230.1,1221.5 243.6,1229 259.2,1237.4 277.1,1246.6 297.4,1256.5 320.2,1266.8 345.8,1277.4 375.1,1288.7 408.4,1301.1 444.8,1314.3 483.3,1327.9 523.1,1341.7 563.1,1355.3 602.4,1368.6 640,1381.2 676.7,1393.2 713.8,1405.1 751,1416.8 788,1428.2 824.6,1439.4 860.6,1450.4 895.8,1461.1 930,1471.5 964.6,1482.1 1000.5,1492.9 1036.6,1503.8 1071.5,1514.3 1104.2,1524.1 1133.5,1532.8 1158.1,1540.2 1176.8,1545.8" fill="none" stroke-width="2"/>
<polyline points="204,1207 204.8,1208.6 206,1210.8 207.3,1213.3 208.8,1216.1 210.3,1219.1 211.9,1222.2 213.5,1225.2 215,1228 216.3,1230.6 217.5,1232.9 218.6,1235.2 219.8,1237.6 221.1,1240.1 222.7,1242.9 224.6,1246.2 227,1250 229.9,1254.4 233.2,1259.4 236.8,1264.8 240.8,1270.6 244.8,1276.5 248.9,1282.4 253,1288.3 257,1294 260.8,1299.4 264.3,1304.7 267.9,1310 271.5,1315.2 275.3,1320.7 279.4,1326.4 283.9,1332.5 289,1339 294.5,1346 300.4,1353.3 306.6,1360.9 313.2,1368.9 320.1,1377.1 327.4,1385.5 335,1394.1 343,1403 350.1,1410.9 355.9,1417.4 361.3,1423.4 367.4,1430 375.2,1438.2 385.9,1448.9 400.5,1463.2 420,1482.1 445.1,1506.4 475.3,1535.7 509.3,1568.6 546.1,1604 584.6,1640.7 623.8,1677.5 662.7,1713.1 700,1746.4 737.5,1778.6 777,1811.5 817.4,1844.4 857.7,1876.7 897.2,1908 934.6,1937.5 969.2,1964.8 1000,1989.1 1027.5,2010.8 1052.8,2030.6 1076,2048.5 1096.8,2064.5 1115.4,2078.5 1131.5,2090.7 1145.1,2101 1156.2,2109.5" fill="none" stroke-width="2"/>
<polyline points="204,1207 206.6,1216.4 209.9,1228.7 213.8,1243.4 218.2,1259.8 223,1277.2 228.1,1295.2 233.4,1313 238.8,1330 244.2,1346.3 249.7,1362.4 255.5,1378.6 261.5,1395.2 267.9,1412.4 274.8,1430.4 282.2,1449.5 290.2,1470 299,1492.2 308.6,1516.2 318.9,1541.4 329.5,1567.3 340.4,1593.6 351.4,1619.8 362.3,1645.3 372.9,1669.7 383.7,1694 395.2,1719.1 406.9,1744.2 418.5,1768.9 429.7,1792.4 440,1814.1 449.3,1833.4 457,1849.7 462.5,1861.4 465.7,1868.3 467.5,1872.2 468.6,1874.6 469.9,1877.3 472.2,1881.8 476.3,1889.8 482.9,1902.9 493,1922.8 506.2,1948.7 521.3,1978.4 537.3,2009.8 553.1,2040.7 567.6,2069.2 579.7,2093 588.4,2110" fill="none" stroke-width="2"/>
<polyline points="204,1207 205.5,1216.4 207.4,1228.7 209.6,1243.4 212.2,1259.8 214.9,1277.2 217.8,1295.2 220.8,1313 223.8,1330 226.8,1346.3 229.8,1362.4 232.9,1378.6 236.1,1395.2 239.5,1412.4 243.2,1430.4 247.2,1449.5 251.6,1470 256.4,1492.2 261.7,1516 267.3,1540.9 273.1,1566.7 279.1,1592.9 285.2,1619.1 291.3,1644.8 297.3,1669.7 303.2,1693.6 308.9,1716.7 314.7,1739.4 320.5,1762.1 326.6,1785.1 332.9,1808.8 339.5,1833.6 346.6,1859.7 354.7,1889.1 363.9,1922.1 373.8,1957 383.8,1992.2 393.4,2025.9 402.1,2056.4 409.4,2082 414.8,2101" fill="none" stroke-width="2"/>
<polyline points="204,1207 204.9,1216.4 206.1,1228.7 207.6,1243.4 209.2,1259.8 210.9,1277.2 212.7,1295.2 214.5,1313 216.3,1330 218,1346.3 219.6,1362.4 221.1,1378.6 222.8,1395.2 224.6,1412.4 226.7,1430.4 229,1449.5 231.7,1470 234.9,1492.2 238.5,1516 242.4,1540.9 246.5,1566.7 250.8,1592.9 255,1619.1 259.1,1644.8 263,1669.7 266.6,1693.6 270,1716.7 273.3,1739.4 276.6,1762.1 279.9,1785.1 283.5,1808.8 287.3,1833.6 291.6,1859.7 296.6,1889.1 302.4,1922.1 308.6,1957 315,1992.2 321.1,2025.9 326.7,2056.4 331.4,2082 334.8,2101" fill="none" stroke-width="2"/>
<polyline points="204,1207 204.8,1216.4 205.8,1228.7 207,1243.4 208.4,1259.8 209.8,1277.2 211.3,1295.2 212.8,1313 214.2,1330 215.6,1346.3 216.9,1362.4 218.3,1378.6 219.8,1395.2 221.2,1412.4 222.7,1430.4 224.3,1449.5 226,1470 227.7,1492.2 229.5,1516 231.4,1540.9 233.3,1566.7 235.3,1592.9 237.3,1619.1 239.4,1644.8 241.6,1669.7 243.9,1693.6 246.2,1716.7 248.6,1739.5 251.1,1762.2 253.6,1785.3 256.2,1809 258.9,1833.7 261.6,1859.7 264.6,1888.9 267.9,1921.7 271.4,1956.3 274.9,1991.2 278.2,2024.6 281.2,2054.8 283.7,2080.2 285.6,2099" fill="none" stroke-width="2"/>
<polyline points="204,1207 1176.8,1598.5" fill="none" stroke-width="2" stroke-dasharray="15 17"/>
<polyline points="204,1207 830.7,2100" fill="none" stroke-width="2" stroke-dasharray="15 17"/>
<polyline points="204,1207 467.5,2090.4" fill="none" stroke-width="2" stroke-dasharray="15 17"/>
<polyline points="204,1207 349.8,2086.2" fill="none" stroke-width="2" stroke-dasharray="15 17"/>
<polyline points="204,1207 297.6,2084" fill="none" stroke-width="2" stroke-dasharray="15 17"/>
<polyline points="204,1207 268.5,2082" fill="none" stroke-width="2" stroke-dasharray="15 17"/>
<circle cx="204.6" cy="1206.8" r="7.6" fill="none" stroke-width="1.9"/>
<circle cx="223.8" cy="1222.8" r="7.6" fill="none" stroke-width="1.9"/>
<circle cx="241.4" cy="1233.5" r="7.6" fill="none" stroke-width="1.9"/>
<circle cx="258.1" cy="1241.7" r="7.6" fill="none" stroke-width="1.9"/>
<circle cx="285.4" cy="1252.4" r="7.6" fill="none" stroke-width="1.9"/>
<circle cx="310.5" cy="1263.9" r="7.6" fill="none" stroke-width="1.9"/>
<circle cx="333" cy="1274.2" r="7.6" fill="none" stroke-width="1.9"/>
<circle cx="349.4" cy="1279.2" r="7.6" fill="none" stroke-width="1.9"/>
<circle cx="384.9" cy="1292" r="7.6" fill="none" stroke-width="1.9"/>
<circle cx="418.3" cy="1304.8" r="7.6" fill="none" stroke-width="1.9"/>
<circle cx="455.5" cy="1317.7" r="7.6" fill="none" stroke-width="1.9"/>
<circle cx="501.8" cy="1333.5" r="7.6" fill="none" stroke-width="1.9"/>
<circle cx="539" cy="1346.4" r="7.6" fill="none" stroke-width="1.9"/>
<circle cx="583.1" cy="1360.5" r="7.6" fill="none" stroke-width="1.9"/>
<circle cx="620.3" cy="1373.3" r="7.6" fill="none" stroke-width="1.9"/>
<circle cx="664.2" cy="1387.8" r="7.6" fill="none" stroke-width="1.9"/>
<circle cx="712.6" cy="1403.6" r="7.6" fill="none" stroke-width="1.9"/>
<circle cx="751.1" cy="1416.9" r="7.6" fill="none" stroke-width="1.9"/>
<circle cx="790.5" cy="1427.6" r="7.6" fill="none" stroke-width="1.9"/>
<circle cx="827.7" cy="1441.3" r="7.6" fill="none" stroke-width="1.9"/>
<circle cx="854.7" cy="1449.8" r="7.6" fill="none" stroke-width="1.9"/>
<circle cx="891.9" cy="1460.5" r="7.6" fill="none" stroke-width="1.9"/>
<circle cx="925.3" cy="1473.4" r="7.6" fill="none" stroke-width="1.9"/>
<circle cx="972.7" cy="1487.9" r="7.6" fill="none" stroke-width="1.9"/>
<circle cx="1009.9" cy="1500.7" r="7.6" fill="none" stroke-width="1.9"/>
<circle cx="1054.6" cy="1515.8" r="7.6" fill="none" stroke-width="1.9"/>
<circle cx="1092.9" cy="1530.2" r="7.6" fill="none" stroke-width="1.9"/>
<circle cx="1127.7" cy="1540.6" r="7.6" fill="none" stroke-width="1.9"/>
<circle cx="1158.4" cy="1551" r="7.6" fill="none" stroke-width="1.9"/>
<circle cx="213.5" cy="1228" r="7.6" fill="none" stroke-width="1.9"/>
<circle cx="227.1" cy="1252.8" r="7.6" fill="none" stroke-width="1.9"/>
<circle cx="241.4" cy="1275.4" r="7.6" fill="none" stroke-width="1.9"/>
<circle cx="257.4" cy="1295.6" r="7.6" fill="none" stroke-width="1.9"/>
<circle cx="272.8" cy="1318.2" r="7.6" fill="none" stroke-width="1.9"/>
<circle cx="288.6" cy="1340" r="7.6" fill="none" stroke-width="1.9"/>
<circle cx="308.7" cy="1363.3" r="7.6" fill="none" stroke-width="1.9"/>
<circle cx="325.5" cy="1383.8" r="7.6" fill="none" stroke-width="1.9"/>
<circle cx="343.6" cy="1404.5" r="7.6" fill="none" stroke-width="1.9"/>
<circle cx="369.4" cy="1433.6" r="7.6" fill="none" stroke-width="1.9"/>
<circle cx="393.4" cy="1459.2" r="7.6" fill="none" stroke-width="1.9"/>
<circle cx="419" cy="1483.6" r="7.6" fill="none" stroke-width="1.9"/>
<circle cx="439.5" cy="1506.6" r="7.6" fill="none" stroke-width="1.9"/>
<circle cx="464.3" cy="1529.3" r="7.6" fill="none" stroke-width="1.9"/>
<circle cx="493.3" cy="1556.4" r="7.6" fill="none" stroke-width="1.9"/>
<circle cx="518.2" cy="1579.5" r="7.6" fill="none" stroke-width="1.9"/>
<circle cx="541" cy="1601.3" r="7.6" fill="none" stroke-width="1.9"/>
<circle cx="567" cy="1625.3" r="7.6" fill="none" stroke-width="1.9"/>
<circle cx="599.9" cy="1654.8" r="7.6" fill="none" stroke-width="1.9"/>
<circle cx="626" cy="1677.7" r="7.6" fill="none" stroke-width="1.9"/>
<circle cx="654.5" cy="1706.8" r="7.6" fill="none" stroke-width="1.9"/>
<circle cx="680.2" cy="1729.1" r="7.6" fill="none" stroke-width="1.9"/>
<circle cx="719.4" cy="1763.4" r="7.6" fill="none" stroke-width="1.9"/>
<circle cx="746.2" cy="1783.7" r="7.6" fill="none" stroke-width="1.9"/>
<circle cx="769.8" cy="1806.3" r="7.6" fill="none" stroke-width="1.9"/>
<circle cx="810.4" cy="1839.7" r="7.6" fill="none" stroke-width="1.9"/>
<circle cx="834.8" cy="1862" r="7.6" fill="none" stroke-width="1.9"/>
<circle cx="847.6" cy="1874.8" r="7.6" fill="none" stroke-width="1.9"/>
<circle cx="213.3" cy="1240" r="7.6" fill="none" stroke-width="1.9"/>
<circle cx="221.8" cy="1270" r="7.6" fill="none" stroke-width="1.9"/>
<circle cx="230.3" cy="1300" r="7.6" fill="none" stroke-width="1.9"/>
<circle cx="236.7" cy="1333.2" r="7.6" fill="none" stroke-width="1.9"/>
<circle cx="250.6" cy="1367.4" r="7.6" fill="none" stroke-width="1.9"/>
<circle cx="265.5" cy="1411.3" r="7.6" fill="none" stroke-width="1.9"/>
<circle cx="279.5" cy="1444.5" r="7.6" fill="none" stroke-width="1.9"/>
<circle cx="288.9" cy="1472.8" r="7.6" fill="none" stroke-width="1.9"/>
<circle cx="304.4" cy="1511.4" r="7.6" fill="none" stroke-width="1.9"/>
<circle cx="319.3" cy="1547" r="7.6" fill="none" stroke-width="1.9"/>
<circle cx="334.4" cy="1580.7" r="7.6" fill="none" stroke-width="1.9"/>
<circle cx="350.9" cy="1621.8" r="7.6" fill="none" stroke-width="1.9"/>
<circle cx="367.2" cy="1659" r="7.6" fill="none" stroke-width="1.9"/>
<circle cx="385.1" cy="1698.5" r="7.6" fill="none" stroke-width="1.9"/>
<circle cx="400.5" cy="1733.3" r="7.6" fill="none" stroke-width="1.9"/>
<circle cx="415.6" cy="1761.8" r="7.6" fill="none" stroke-width="1.9"/>
<circle cx="426.1" cy="1779.2" r="7.6" fill="none" stroke-width="1.9"/>
<circle cx="210.1" cy="1245" r="7.6" fill="none" stroke-width="1.9"/>
<circle cx="216.6" cy="1285" r="7.6" fill="none" stroke-width="1.9"/>
<circle cx="223" cy="1325" r="7.6" fill="none" stroke-width="1.9"/>
<circle cx="229.2" cy="1368.1" r="7.6" fill="none" stroke-width="1.9"/>
<circle cx="235.6" cy="1398.5" r="7.6" fill="none" stroke-width="1.9"/>
<circle cx="240.9" cy="1419.9" r="7.6" fill="none" stroke-width="1.9"/>
<circle cx="245.2" cy="1446.6" r="7.6" fill="none" stroke-width="1.9"/>
<circle cx="255.3" cy="1490.5" r="7.6" fill="none" stroke-width="1.9"/>
<circle cx="264.5" cy="1535" r="7.6" fill="none" stroke-width="1.9"/>
<circle cx="272.5" cy="1567" r="7.6" fill="none" stroke-width="1.9"/>
<circle cx="281" cy="1602.7" r="7.6" fill="none" stroke-width="1.9"/>
<circle cx="287.9" cy="1634" r="7.6" fill="none" stroke-width="1.9"/>
<circle cx="297.3" cy="1676.5" r="7.6" fill="none" stroke-width="1.9"/>
<circle cx="309.6" cy="1719.3" r="7.6" fill="none" stroke-width="1.9"/>
<circle cx="321" cy="1763.3" r="7.6" fill="none" stroke-width="1.9"/>
<circle cx="328.9" cy="1779.8" r="7.6" fill="none" stroke-width="1.9"/>
<circle cx="208.8" cy="1255" r="7.6" fill="none" stroke-width="1.9"/>
<circle cx="213.3" cy="1300" r="7.6" fill="none" stroke-width="1.9"/>
<circle cx="216.9" cy="1335" r="7.6" fill="none" stroke-width="1.9"/>
<circle cx="219.5" cy="1367.4" r="7.6" fill="none" stroke-width="1.9"/>
<circle cx="226" cy="1416.7" r="7.6" fill="none" stroke-width="1.9"/>
<circle cx="233.1" cy="1472.3" r="7.6" fill="none" stroke-width="1.9"/>
<circle cx="238.8" cy="1503.7" r="7.6" fill="none" stroke-width="1.9"/>
<circle cx="243.9" cy="1551.3" r="7.6" fill="none" stroke-width="1.9"/>
<circle cx="248.8" cy="1585.5" r="7.6" fill="none" stroke-width="1.9"/>
<circle cx="255.3" cy="1632.6" r="7.6" fill="none" stroke-width="1.9"/>
<circle cx="263" cy="1675.7" r="7.6" fill="none" stroke-width="1.9"/>
<circle cx="270.8" cy="1725" r="7.6" fill="none" stroke-width="1.9"/>
<circle cx="276.5" cy="1763.3" r="7.6" fill="none" stroke-width="1.9"/>
<circle cx="282.2" cy="1799.8" r="7.6" fill="none" stroke-width="1.9"/>
<circle cx="288.7" cy="1839.4" r="7.6" fill="none" stroke-width="1.9"/>
<circle cx="293.5" cy="1866" r="7.6" fill="none" stroke-width="1.9"/>
<circle cx="298.7" cy="1888.2" r="7.6" fill="none" stroke-width="1.9"/>
<circle cx="208.8" cy="1265" r="7.6" fill="none" stroke-width="1.9"/>
<circle cx="212.1" cy="1305" r="7.6" fill="none" stroke-width="1.9"/>
<circle cx="211" cy="1335.3" r="7.6" fill="none" stroke-width="1.9"/>
<circle cx="216.3" cy="1395.3" r="7.6" fill="none" stroke-width="1.9"/>
<circle cx="220.6" cy="1433.8" r="7.6" fill="none" stroke-width="1.9"/>
<circle cx="224.5" cy="1487.1" r="7.6" fill="none" stroke-width="1.9"/>
<circle cx="230.2" cy="1534.2" r="7.6" fill="none" stroke-width="1.9"/>
<circle cx="233.1" cy="1570.4" r="7.6" fill="none" stroke-width="1.9"/>
<circle cx="237.4" cy="1609.8" r="7.6" fill="none" stroke-width="1.9"/>
<circle cx="241.1" cy="1651.2" r="7.6" fill="none" stroke-width="1.9"/>
<circle cx="245.9" cy="1688.5" r="7.6" fill="none" stroke-width="1.9"/>
<circle cx="249.4" cy="1727" r="7.6" fill="none" stroke-width="1.9"/>
<circle cx="255.3" cy="1779.3" r="7.6" fill="none" stroke-width="1.9"/>
<circle cx="261.4" cy="1830.9" r="7.6" fill="none" stroke-width="1.9"/>
<circle cx="264.8" cy="1858.2" r="7.6" fill="none" stroke-width="1.9"/>
<circle cx="269.6" cy="1900.2" r="7.6" fill="none" stroke-width="1.9"/>
<circle cx="274.7" cy="1926.7" r="7.6" fill="none" stroke-width="1.9"/>
<polyline points="192.1,2306.5 192.5,2306.9 192.5,2307.3 192.5,2307.8 192.7,2308.4 193.6,2309.3 195.5,2310.5 198.6,2312.1 203.5,2314.3 210.2,2317.1 218.5,2320.5 228.1,2324.4 238.7,2328.6 250,2333.1 261.7,2337.6 273.4,2342 285,2346.3 295.3,2350 304.1,2353.2 312.6,2356.2 321.7,2359.4 332.4,2363 345.9,2367.6 363,2373.3 385,2380.6 412.6,2389.8 445.2,2400.7 481.6,2412.8 520.6,2425.8 561.2,2439.2 602,2452.6 642,2465.5 680,2477.6 717.1,2489.2 755.1,2500.8 793.3,2512.4 831.3,2523.8 868.4,2534.9 904.3,2545.5 938.3,2555.5 970,2564.8 1000.2,2573.6 1030,2582.1 1058.6,2590.2 1085.6,2597.8 1110.3,2604.6 1132.1,2610.7 1150.5,2615.8 1164.9,2619.8" fill="none" stroke-width="2"/>
<polyline points="192.1,2306.5 193.1,2308.1 194.4,2310.2 196,2312.7 197.7,2315.4 199.5,2318.4 201.4,2321.4 203.3,2324.3 205,2327 206.6,2329.6 208.3,2332.1 209.9,2334.6 211.5,2337.2 213.2,2339.7 214.9,2342.4 216.8,2345.1 218.7,2348 220.8,2351 223,2354.2 225.2,2357.6 227.6,2360.9 230,2364.3 232.3,2367.7 234.7,2370.9 237,2374 239.1,2376.9 241.1,2379.5 243,2382 244.9,2384.4 247,2387 249.3,2389.7 251.9,2392.7 255,2396 258.6,2399.8 262.6,2403.8 267,2408.2 271.6,2412.7 276.3,2417.3 281.1,2422 285.9,2426.6 290.6,2431 295.1,2435.3 299.4,2439.4 303.7,2443.5 308.1,2447.6 312.7,2451.7 317.5,2456.1 322.6,2460.6 328.2,2465.5 334.4,2470.7 341.1,2476.3 348.2,2482.2 355.5,2488.2 363,2494.2 370.3,2500.2 377.5,2506 384.3,2511.5 390.8,2516.8 397,2521.8 403.1,2526.8 409.1,2531.7 415,2536.5 421.1,2541.4 427.2,2546.4 433.5,2551.5 439.8,2556.6 446,2561.5 452.1,2566.4 458.4,2571.3 464.9,2576.5 471.8,2582.1 479.1,2588.2 487,2595 495.4,2602.5 504.2,2610.5 513.4,2619 523,2627.9 532.9,2637.2 543.4,2646.6 554.2,2656.1 565.6,2665.6 577.6,2675.4 590.3,2685.5 603.6,2696 617.3,2706.5 631.2,2717 645.2,2727.4 659,2737.4 672.6,2746.9 686.6,2756.3 701.5,2765.8 716.8,2775.3 731.9,2784.4 746.3,2793 759.5,2800.8 770.9,2807.6 780,2813.2 786.6,2817.4 791,2820.3 793.7,2822.1 795.2,2823.2 795.8,2823.8 796.1,2824.2 796.3,2824.5 797,2825" fill="none" stroke-width="2"/>
<polyline points="192.1,2306.5 192.7,2308.5 193.5,2311.2 194.5,2314.5 195.5,2318.1 196.7,2321.9 197.8,2325.7 199,2329.5 200,2333 201,2336.3 202,2339.6 203,2343 204,2346.3 205,2349.6 206,2353 207,2356.5 208,2360 208.9,2363.6 209.8,2367.2 210.6,2370.9 211.4,2374.6 212.3,2378.3 213.3,2382.1 214.5,2386 216,2390 217.8,2394.1 219.9,2398.4 222.2,2402.8 224.7,2407.2 227.2,2411.6 229.6,2415.9 231.9,2420.1 234,2424 235.9,2427.7 237.6,2431.2 239.3,2434.5 240.8,2437.8 242.4,2441 243.9,2444.3 245.4,2447.6 247,2451 248.5,2454.4 249.7,2457.7 250.9,2460.9 252.2,2464.2 253.5,2467.7 255.1,2471.4 257,2475.5 259.4,2480 262.3,2485 265.6,2490.6 269.3,2496.4 273.2,2502.6 277.2,2508.8 281.3,2515 285.2,2521.1 289,2527 292.3,2532.1 295.2,2536.2 297.8,2540 300.6,2543.9 303.7,2548.4 307.3,2554.1 311.9,2561.5 317.5,2571 323.9,2582.4 330.6,2595.1 337.9,2609.1 345.9,2624.5 354.9,2641.1 365,2659.2 376.6,2678.7 389.7,2699.7 405.8,2724 425.2,2752.6 446.7,2783.6 469.1,2815.5 491,2846.6 511.2,2875.1 528.4,2899.5 541.4,2918.1 550,2930.5 555.3,2938.1 558,2942 558.8,2943.2 558.4,2942.7 557.5,2941.5 556.9,2940.6 557.2,2941" fill="none" stroke-width="2"/>
<polyline points="192.1,2306.5 193,2310.1 194.1,2314.3 195.5,2319.3 197,2325.1 198.7,2332 200.6,2340 202.7,2349.3 205,2360 207.4,2372.5 210,2386.7 212.8,2402.3 215.8,2419 218.9,2436.4 222.3,2454.3 225.9,2472.3 229.7,2490 233.8,2507.6 238,2525.6 242.5,2543.8 247.2,2562.4 252.1,2581.3 257.2,2600.5 262.6,2620 268.2,2639.8 274.1,2659.9 280.2,2680.2 286.6,2700.8 293.2,2721.8 300,2743.1 306.9,2764.9 314.1,2787.2 321.3,2810 328.7,2833.6 336.3,2857.9 344.1,2882.8 352.1,2908.1 360.2,2933.6 368.3,2959.2 376.6,2984.6 384.9,3009.7 393.8,3035.9 403.5,3064 413.6,3092.8 423.6,3121.2 433.2,3148 441.8,3172.2 449,3192.4 454.4,3207.7" fill="none" stroke-width="2"/>
<polyline points="192.1,2306.5 192.7,2311.5 193.5,2317.7 194.4,2325.1 195.5,2333.6 196.7,2342.9 198,2353 199.4,2363.7 201,2375 202.7,2387 204.5,2399.9 206.4,2413.6 208.5,2428 210.6,2443 213,2458.4 215.4,2474.1 218,2490 220.7,2506 223.5,2522.3 226.5,2538.9 229.6,2555.9 232.8,2573.5 236.2,2591.6 239.8,2610.4 243.6,2630 247.6,2650.5 251.7,2671.7 256,2693.7 260.5,2716.3 265.2,2739.3 270,2762.7 274.9,2786.3 279.9,2810 285.1,2834 290.5,2858.6 296.1,2883.5 301.8,2908.7 307.6,2934.1 313.4,2959.4 319.2,2984.7 325,3009.7 331.1,3035.9 337.7,3064 344.4,3092.8 351.2,3121.2 357.5,3148 363.3,3172.2 368.1,3192.4 371.7,3207.7" fill="none" stroke-width="2"/>
<polyline points="192.1,2306.5 192.5,2311.9 193,2318.9 193.6,2327.1 194.3,2336.4 195.1,2346.5 196,2357.3 197,2368.6 198,2380 199.1,2391.8 200.4,2404.2 201.7,2417.3 203.2,2430.8 204.7,2444.9 206.2,2459.5 207.8,2474.6 209.4,2490 211,2505.8 212.6,2522 214.2,2538.5 215.8,2555.6 217.5,2573.3 219.4,2591.5 221.5,2610.4 223.7,2630 226.2,2650.5 228.8,2671.7 231.6,2693.7 234.5,2716.3 237.6,2739.3 240.7,2762.7 243.9,2786.3 247.1,2810 250.4,2834.1 253.9,2858.8 257.4,2884 261,2909.3 264.7,2934.8 268.4,2960.1 272,2985.2 275.6,3009.7 279.3,3035 283.3,3061.9 287.4,3089.3 291.5,3116.2 295.3,3141.5 298.7,3164.2 301.6,3183.3 303.8,3197.7" fill="none" stroke-width="2"/>
<polyline points="192.1,2306.5 197.5,2990" fill="none" stroke-width="2" stroke-dasharray="15 17"/>
<polyline points="192.1,2306.5 1165,2643.6" fill="none" stroke-width="2" stroke-dasharray="15 17"/>
<polyline points="192.1,2306.5 797,2994" fill="none" stroke-width="2" stroke-dasharray="15 17"/>
<polyline points="192.1,2306.5 218.8,3183.7" fill="none" stroke-width="2" stroke-dasharray="15 17"/>
<polyline points="192.1,2306.5 235.9,3185.7" fill="none" stroke-width="2" stroke-dasharray="15 17"/>
<polyline points="192.1,2306.5 269.9,3191.7" fill="none" stroke-width="2" stroke-dasharray="15 17"/>
<circle cx="192.1" cy="2306.4" r="7.6" fill="none" stroke-width="1.9"/>
<circle cx="219.8" cy="2325" r="7.6" fill="none" stroke-width="1.9"/>
<circle cx="272.9" cy="2347.2" r="7.6" fill="none" stroke-width="1.9"/>
<circle cx="328.2" cy="2364.9" r="7.6" fill="none" stroke-width="1.9"/>
<circle cx="386.6" cy="2384.8" r="7.6" fill="none" stroke-width="1.9"/>
<circle cx="450.6" cy="2404" r="7.6" fill="none" stroke-width="1.9"/>
<circle cx="532.8" cy="2426.2" r="7.6" fill="none" stroke-width="1.9"/>
<circle cx="597" cy="2443.4" r="7.6" fill="none" stroke-width="1.9"/>
<circle cx="656" cy="2462.6" r="7.6" fill="none" stroke-width="1.9"/>
<circle cx="711.5" cy="2481.3" r="7.6" fill="none" stroke-width="1.9"/>
<circle cx="765" cy="2500.6" r="7.6" fill="none" stroke-width="1.9"/>
<circle cx="818.9" cy="2519.8" r="7.6" fill="none" stroke-width="1.9"/>
<circle cx="877.6" cy="2537.8" r="7.6" fill="none" stroke-width="1.9"/>
<circle cx="930.2" cy="2554.9" r="7.6" fill="none" stroke-width="1.9"/>
<circle cx="977" cy="2573.6" r="7.6" fill="none" stroke-width="1.9"/>
<circle cx="1023.2" cy="2590.7" r="7.6" fill="none" stroke-width="1.9"/>
<circle cx="1083.1" cy="2607.8" r="7.6" fill="none" stroke-width="1.9"/>
<circle cx="1123.2" cy="2618.1" r="7.6" fill="none" stroke-width="1.9"/>
<circle cx="1159.1" cy="2629.4" r="7.6" fill="none" stroke-width="1.9"/>
<circle cx="203.7" cy="2325" r="7.6" fill="none" stroke-width="1.9"/>
<circle cx="218.7" cy="2350.6" r="7.6" fill="none" stroke-width="1.9"/>
<circle cx="238.6" cy="2376.3" r="7.6" fill="none" stroke-width="1.9"/>
<circle cx="254.9" cy="2396.3" r="7.6" fill="none" stroke-width="1.9"/>
<circle cx="271.2" cy="2412.5" r="7.6" fill="none" stroke-width="1.9"/>
<circle cx="290.6" cy="2431.4" r="7.6" fill="none" stroke-width="1.9"/>
<circle cx="309.1" cy="2450.5" r="7.6" fill="none" stroke-width="1.9"/>
<circle cx="328.2" cy="2466.8" r="7.6" fill="none" stroke-width="1.9"/>
<circle cx="356.5" cy="2489.5" r="7.6" fill="none" stroke-width="1.9"/>
<circle cx="383.8" cy="2513" r="7.6" fill="none" stroke-width="1.9"/>
<circle cx="408.1" cy="2532.9" r="7.6" fill="none" stroke-width="1.9"/>
<circle cx="433.5" cy="2552.3" r="7.6" fill="none" stroke-width="1.9"/>
<circle cx="459.4" cy="2574" r="7.6" fill="none" stroke-width="1.9"/>
<circle cx="490.5" cy="2598.4" r="7.6" fill="none" stroke-width="1.9"/>
<circle cx="512.1" cy="2619.8" r="7.6" fill="none" stroke-width="1.9"/>
<circle cx="536.9" cy="2643.3" r="7.6" fill="none" stroke-width="1.9"/>
<circle cx="564.7" cy="2664.7" r="7.6" fill="none" stroke-width="1.9"/>
<circle cx="599" cy="2691.3" r="7.6" fill="none" stroke-width="1.9"/>
<circle cx="625.5" cy="2713.5" r="7.6" fill="none" stroke-width="1.9"/>
<circle cx="653.3" cy="2738.3" r="7.6" fill="none" stroke-width="1.9"/>
<circle cx="675.6" cy="2761.9" r="7.6" fill="none" stroke-width="1.9"/>
<circle cx="200.6" cy="2335" r="7.6" fill="none" stroke-width="1.9"/>
<circle cx="209.3" cy="2365" r="7.6" fill="none" stroke-width="1.9"/>
<circle cx="216.4" cy="2393.4" r="7.6" fill="none" stroke-width="1.9"/>
<circle cx="234.1" cy="2424.8" r="7.6" fill="none" stroke-width="1.9"/>
<circle cx="247.2" cy="2451.9" r="7.6" fill="none" stroke-width="1.9"/>
<circle cx="263" cy="2485.2" r="7.6" fill="none" stroke-width="1.9"/>
<circle cx="281" cy="2516.1" r="7.6" fill="none" stroke-width="1.9"/>
<circle cx="296.6" cy="2544.1" r="7.6" fill="none" stroke-width="1.9"/>
<circle cx="318.4" cy="2575.8" r="7.6" fill="none" stroke-width="1.9"/>
<circle cx="338" cy="2607" r="7.6" fill="none" stroke-width="1.9"/>
<circle cx="359.2" cy="2642.7" r="7.6" fill="none" stroke-width="1.9"/>
<circle cx="377.9" cy="2677.1" r="7.6" fill="none" stroke-width="1.9"/>
<circle cx="398.3" cy="2714.1" r="7.6" fill="none" stroke-width="1.9"/>
<circle cx="420.6" cy="2749.6" r="7.6" fill="none" stroke-width="1.9"/>
<circle cx="444.7" cy="2794.8" r="7.6" fill="none" stroke-width="1.9"/>
<circle cx="466.7" cy="2830.3" r="7.6" fill="none" stroke-width="1.9"/>
<circle cx="490.3" cy="2871.1" r="7.6" fill="none" stroke-width="1.9"/>
<circle cx="512.2" cy="2904" r="7.6" fill="none" stroke-width="1.9"/>
<circle cx="525.6" cy="2928.2" r="7.6" fill="none" stroke-width="1.9"/>
<circle cx="201.4" cy="2345" r="7.6" fill="none" stroke-width="1.9"/>
<circle cx="209.8" cy="2385" r="7.6" fill="none" stroke-width="1.9"/>
<circle cx="217.3" cy="2425" r="7.6" fill="none" stroke-width="1.9"/>
<circle cx="224.9" cy="2465" r="7.6" fill="none" stroke-width="1.9"/>
<circle cx="230.8" cy="2501.1" r="7.6" fill="none" stroke-width="1.9"/>
<circle cx="239.4" cy="2535.4" r="7.6" fill="none" stroke-width="1.9"/>
<circle cx="246.8" cy="2564.9" r="7.6" fill="none" stroke-width="1.9"/>
<circle cx="257.5" cy="2599.1" r="7.6" fill="none" stroke-width="1.9"/>
<circle cx="270" cy="2641.7" r="7.6" fill="none" stroke-width="1.9"/>
<circle cx="285" cy="2701.3" r="7.6" fill="none" stroke-width="1.9"/>
<circle cx="319.8" cy="2811.5" r="7.6" fill="none" stroke-width="1.9"/>
<circle cx="336.4" cy="2850" r="7.6" fill="none" stroke-width="1.9"/>
<circle cx="348.9" cy="2884.2" r="7.6" fill="none" stroke-width="1.9"/>
<circle cx="197.8" cy="2350" r="7.6" fill="none" stroke-width="1.9"/>
<circle cx="204" cy="2395" r="7.6" fill="none" stroke-width="1.9"/>
<circle cx="209.9" cy="2435" r="7.6" fill="none" stroke-width="1.9"/>
<circle cx="215.8" cy="2475" r="7.6" fill="none" stroke-width="1.9"/>
<circle cx="219.7" cy="2508.2" r="7.6" fill="none" stroke-width="1.9"/>
<circle cx="226.1" cy="2538.8" r="7.6" fill="none" stroke-width="1.9"/>
<circle cx="231.9" cy="2576" r="7.6" fill="none" stroke-width="1.9"/>
<circle cx="238.9" cy="2610.3" r="7.6" fill="none" stroke-width="1.9"/>
<circle cx="246.2" cy="2640.7" r="7.6" fill="none" stroke-width="1.9"/>
<circle cx="253.6" cy="2672.2" r="7.6" fill="none" stroke-width="1.9"/>
<circle cx="259.9" cy="2701.3" r="7.6" fill="none" stroke-width="1.9"/>
<circle cx="267.9" cy="2735.6" r="7.6" fill="none" stroke-width="1.9"/>
<circle cx="274.2" cy="2762.7" r="7.6" fill="none" stroke-width="1.9"/>
<circle cx="280.7" cy="2795.5" r="7.6" fill="none" stroke-width="1.9"/>
<circle cx="293.6" cy="2853.4" r="7.6" fill="none" stroke-width="1.9"/>
<circle cx="302.1" cy="2899" r="7.6" fill="none" stroke-width="1.9"/>
<circle cx="308.4" cy="2925.5" r="7.6" fill="none" stroke-width="1.9"/>
<circle cx="194.8" cy="2340" r="7.6" fill="none" stroke-width="1.9"/>
<circle cx="197.2" cy="2370" r="7.6" fill="none" stroke-width="1.9"/>
<circle cx="200.6" cy="2405" r="7.6" fill="none" stroke-width="1.9"/>
<circle cx="204.2" cy="2440" r="7.6" fill="none" stroke-width="1.9"/>
<circle cx="207.3" cy="2470" r="7.6" fill="none" stroke-width="1.9"/>
<circle cx="208.3" cy="2492.1" r="7.6" fill="none" stroke-width="1.9"/>
<circle cx="212" cy="2514" r="7.6" fill="none" stroke-width="1.9"/>
<circle cx="213.7" cy="2541.4" r="7.6" fill="none" stroke-width="1.9"/>
<circle cx="216.9" cy="2565.3" r="7.6" fill="none" stroke-width="1.9"/>
<circle cx="219.7" cy="2594.4" r="7.6" fill="none" stroke-width="1.9"/>
<circle cx="222.2" cy="2616.3" r="7.6" fill="none" stroke-width="1.9"/>
<circle cx="226.3" cy="2640.7" r="7.6" fill="none" stroke-width="1.9"/>
<circle cx="229.4" cy="2670" r="7.6" fill="none" stroke-width="1.9"/>
<circle cx="233.1" cy="2701.3" r="7.6" fill="none" stroke-width="1.9"/>
<circle cx="239.4" cy="2740.7" r="7.6" fill="none" stroke-width="1.9"/>
<circle cx="242.2" cy="2766.4" r="7.6" fill="none" stroke-width="1.9"/>
<circle cx="246.5" cy="2800.6" r="7.6" fill="none" stroke-width="1.9"/>
<circle cx="252.2" cy="2839.4" r="7.6" fill="none" stroke-width="1.9"/>
<circle cx="260.5" cy="2879" r="7.6" fill="none" stroke-width="1.9"/>
<circle cx="264.2" cy="2913.3" r="7.6" fill="none" stroke-width="1.9"/>
<circle cx="271.3" cy="2949.8" r="7.6" fill="none" stroke-width="1.9"/>
<circle cx="276.5" cy="2976.9" r="7.6" fill="none" stroke-width="1.9"/>
<circle cx="197" cy="2330" r="7.6" fill="none" stroke-width="1.9"/>
<circle cx="198" cy="2352" r="7.6" fill="none" stroke-width="1.9"/>
<circle cx="196" cy="2375" r="7.6" fill="none" stroke-width="1.9"/>
<circle cx="199" cy="2398" r="7.6" fill="none" stroke-width="1.9"/>
<circle cx="197" cy="2420" r="7.6" fill="none" stroke-width="1.9"/>
<circle cx="200" cy="2445" r="7.6" fill="none" stroke-width="1.9"/>
<circle cx="198" cy="2468" r="7.6" fill="none" stroke-width="1.9"/>
<circle cx="201" cy="2490" r="7.6" fill="none" stroke-width="1.9"/>
<circle cx="199" cy="2515" r="7.6" fill="none" stroke-width="1.9"/>
<circle cx="202" cy="2540" r="7.6" fill="none" stroke-width="1.9"/>
<circle cx="200" cy="2562" r="7.6" fill="none" stroke-width="1.9"/>
<circle cx="203" cy="2588" r="7.6" fill="none" stroke-width="1.9"/>
<circle cx="201" cy="2610" r="7.6" fill="none" stroke-width="1.9"/>
<circle cx="195" cy="2322" r="7.6" fill="none" stroke-width="1.9"/>
<circle cx="199" cy="2335" r="7.6" fill="none" stroke-width="1.9"/>
<circle cx="203" cy="2348" r="7.6" fill="none" stroke-width="1.9"/>
<circle cx="195" cy="2361" r="7.6" fill="none" stroke-width="1.9"/>
<circle cx="199" cy="2374" r="7.6" fill="none" stroke-width="1.9"/>
<circle cx="203" cy="2387" r="7.6" fill="none" stroke-width="1.9"/>
<circle cx="195" cy="2400" r="7.6" fill="none" stroke-width="1.9"/>
<circle cx="199" cy="2413" r="7.6" fill="none" stroke-width="1.9"/>
<circle cx="203" cy="2426" r="7.6" fill="none" stroke-width="1.9"/>
<circle cx="195" cy="2439" r="7.6" fill="none" stroke-width="1.9"/>
<circle cx="199" cy="2452" r="7.6" fill="none" stroke-width="1.9"/>
<circle cx="203" cy="2465" r="7.6" fill="none" stroke-width="1.9"/>
<circle cx="195" cy="2478" r="7.6" fill="none" stroke-width="1.9"/>
<circle cx="199" cy="2491" r="7.6" fill="none" stroke-width="1.9"/>
<circle cx="204" cy="2330" r="7.6" fill="none" stroke-width="1.9"/>
<circle cx="206" cy="2360" r="7.6" fill="none" stroke-width="1.9"/>
<circle cx="207" cy="2395" r="7.6" fill="none" stroke-width="1.9"/>
<circle cx="205" cy="2430" r="7.6" fill="none" stroke-width="1.9"/>
<polyline points="132.6,4376.2 136.9,4371.5 142.2,4365.9 148.4,4359.1 155.5,4351.4 163.8,4342.6 173.1,4332.7 183.6,4321.9 195.3,4310 208.7,4296.5 224.1,4281.2 240.8,4264.6 258.5,4247.1 276.8,4229.1 295.1,4211.3 313,4194 330,4177.7 345.5,4163 359.8,4149.7 373.4,4137 387.2,4124.4 401.9,4111 418.2,4096.3 436.8,4079.5 458.4,4060 483.9,4037 512.8,4010.9 544.3,3982.7 577.3,3953.1 610.7,3923.1 643.8,3893.6 675.4,3865.5 704.5,3839.7 732,3815.5 759.2,3791.8 785.7,3768.7 811.4,3746.5 835.9,3725.4 859,3705.5 880.5,3687 900,3670.2 916.6,3655.9 929.9,3644.4 941.2,3634.7 951.2,3626.1 961.1,3617.6 971.9,3608.5 984.5,3597.7 1000,3584.6 1019.6,3568 1042.8,3548.4 1068.2,3527 1094.2,3505 1119.6,3483.6 1142.6,3464.2 1161.9,3447.9 1176,3436" fill="none" stroke-width="2.2"/>
<polyline points="132.6,4380.8 1176,4068.5" fill="none" stroke-width="2.2"/>
<polyline points="132.6,4383 1171.7,4311.7" fill="none" stroke-width="2.2"/>
<circle cx="152.5" cy="4353.4" r="13.4" fill="#000" stroke="none"/>
<circle cx="236.5" cy="4266.9" r="13.4" fill="#000" stroke="none"/>
<circle cx="377.1" cy="4123.3" r="13.4" fill="#000" stroke="none"/>
<circle cx="573.4" cy="3944.2" r="13.4" fill="#000" stroke="none"/>
<circle cx="825.6" cy="3729.2" r="13.4" fill="#000" stroke="none"/>
<circle cx="1134" cy="3525.1" r="13.4" fill="#000" stroke="none"/>
<circle cx="152.5" cy="4377.9" r="12" fill="none" stroke-width="2.6"/>
<circle cx="236.5" cy="4353.1" r="12" fill="none" stroke-width="2.6"/>
<circle cx="377.1" cy="4308.2" r="12" fill="none" stroke-width="2.6"/>
<circle cx="573.4" cy="4247.4" r="12" fill="none" stroke-width="2.6"/>
<circle cx="825.6" cy="4167.1" r="12" fill="none" stroke-width="2.6"/>
<circle cx="1134" cy="4083.8" r="12" fill="none" stroke-width="2.6"/>
<polygon points="152.5,4371.599999999999 136.9,4396.0 168.1,4396.0" fill="none" stroke-width="2.8" stroke-linejoin="miter"/>
<polygon points="236.5,4365.599999999999 220.9,4390.0 252.1,4390.0" fill="none" stroke-width="2.8" stroke-linejoin="miter"/>
<polygon points="377.1,4357.599999999999 361.5,4382.0 392.70000000000005,4382.0" fill="none" stroke-width="2.8" stroke-linejoin="miter"/>
<polygon points="573.4,4341.599999999999 557.8,4366.0 589.0,4366.0" fill="none" stroke-width="2.8" stroke-linejoin="miter"/>
<polygon points="825.6,4326.2 810.0,4350.6 841.2,4350.6" fill="none" stroke-width="2.8" stroke-linejoin="miter"/>
<polygon points="1134,4297.9 1118.4,4322.3 1149.6,4322.3" fill="none" stroke-width="2.8" stroke-linejoin="miter"/>

</g>
</svg>
</body></html>
